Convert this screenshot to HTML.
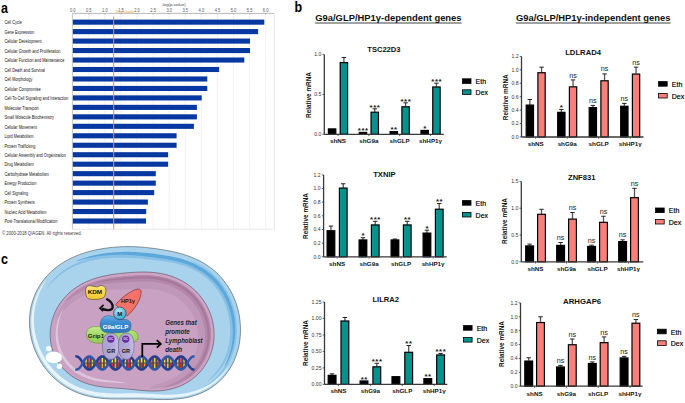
<!DOCTYPE html>
<html><head><meta charset="utf-8"><style>
html,body{margin:0;padding:0;background:#fff;overflow:hidden;width:685px;height:403px;}
svg{display:block;font-family:"Liberation Sans", sans-serif;}
</style></head><body>
<svg width="685" height="403" viewBox="0 0 685 403">
<rect width="685" height="403" fill="#fff"/>
<text transform="translate(0.9,12.5) scale(0.88,1)" font-size="14.2" font-weight="bold" fill="#000">a</text>
<line x1="88.78" y1="13.4" x2="88.78" y2="229.3" stroke="#e2e2e2" stroke-width="0.7" stroke-dasharray="1.6 0.9"/>
<line x1="88.78" y1="13.4" x2="88.78" y2="14.700000000000001" stroke="#aaa" stroke-width="0.6"/>
<line x1="104.86" y1="13.4" x2="104.86" y2="229.3" stroke="#e2e2e2" stroke-width="0.7" stroke-dasharray="1.6 0.9"/>
<line x1="104.86" y1="13.4" x2="104.86" y2="14.700000000000001" stroke="#aaa" stroke-width="0.6"/>
<line x1="120.94" y1="13.4" x2="120.94" y2="229.3" stroke="#e2e2e2" stroke-width="0.7" stroke-dasharray="1.6 0.9"/>
<line x1="120.94" y1="13.4" x2="120.94" y2="14.700000000000001" stroke="#aaa" stroke-width="0.6"/>
<line x1="137.02" y1="13.4" x2="137.02" y2="229.3" stroke="#e2e2e2" stroke-width="0.7" stroke-dasharray="1.6 0.9"/>
<line x1="137.02" y1="13.4" x2="137.02" y2="14.700000000000001" stroke="#aaa" stroke-width="0.6"/>
<line x1="153.10" y1="13.4" x2="153.10" y2="229.3" stroke="#e2e2e2" stroke-width="0.7" stroke-dasharray="1.6 0.9"/>
<line x1="153.10" y1="13.4" x2="153.10" y2="14.700000000000001" stroke="#aaa" stroke-width="0.6"/>
<line x1="169.18" y1="13.4" x2="169.18" y2="229.3" stroke="#e2e2e2" stroke-width="0.7" stroke-dasharray="1.6 0.9"/>
<line x1="169.18" y1="13.4" x2="169.18" y2="14.700000000000001" stroke="#aaa" stroke-width="0.6"/>
<line x1="185.26" y1="13.4" x2="185.26" y2="229.3" stroke="#e2e2e2" stroke-width="0.7" stroke-dasharray="1.6 0.9"/>
<line x1="185.26" y1="13.4" x2="185.26" y2="14.700000000000001" stroke="#aaa" stroke-width="0.6"/>
<line x1="201.34" y1="13.4" x2="201.34" y2="229.3" stroke="#e2e2e2" stroke-width="0.7" stroke-dasharray="1.6 0.9"/>
<line x1="201.34" y1="13.4" x2="201.34" y2="14.700000000000001" stroke="#aaa" stroke-width="0.6"/>
<line x1="217.42" y1="13.4" x2="217.42" y2="229.3" stroke="#e2e2e2" stroke-width="0.7" stroke-dasharray="1.6 0.9"/>
<line x1="217.42" y1="13.4" x2="217.42" y2="14.700000000000001" stroke="#aaa" stroke-width="0.6"/>
<line x1="233.50" y1="13.4" x2="233.50" y2="229.3" stroke="#e2e2e2" stroke-width="0.7" stroke-dasharray="1.6 0.9"/>
<line x1="233.50" y1="13.4" x2="233.50" y2="14.700000000000001" stroke="#aaa" stroke-width="0.6"/>
<line x1="249.58" y1="13.4" x2="249.58" y2="229.3" stroke="#e2e2e2" stroke-width="0.7" stroke-dasharray="1.6 0.9"/>
<line x1="249.58" y1="13.4" x2="249.58" y2="14.700000000000001" stroke="#aaa" stroke-width="0.6"/>
<line x1="265.66" y1="13.4" x2="265.66" y2="229.3" stroke="#e2e2e2" stroke-width="0.7" stroke-dasharray="1.6 0.9"/>
<line x1="265.66" y1="13.4" x2="265.66" y2="14.700000000000001" stroke="#aaa" stroke-width="0.6"/>
<line x1="274.4" y1="13.4" x2="274.4" y2="229.3" stroke="#e0e0e0" stroke-width="0.8"/>
<line x1="72.4" y1="229.3" x2="274.4" y2="229.3" stroke="#e4e4e4" stroke-width="0.8"/>
<text transform="translate(72.70,11.7) scale(0.82,1)" font-size="4.9" fill="#555" text-anchor="middle">0.0</text>
<text transform="translate(88.78,11.7) scale(0.82,1)" font-size="4.9" fill="#555" text-anchor="middle">0.5</text>
<text transform="translate(104.86,11.7) scale(0.82,1)" font-size="4.9" fill="#555" text-anchor="middle">1.0</text>
<text transform="translate(120.94,11.7) scale(0.82,1)" font-size="4.9" fill="#555" text-anchor="middle">1.5</text>
<text transform="translate(137.02,11.7) scale(0.82,1)" font-size="4.9" fill="#555" text-anchor="middle">2.0</text>
<text transform="translate(153.10,11.7) scale(0.82,1)" font-size="4.9" fill="#555" text-anchor="middle">2.5</text>
<text transform="translate(169.18,11.7) scale(0.82,1)" font-size="4.9" fill="#555" text-anchor="middle">3.0</text>
<text transform="translate(185.26,11.7) scale(0.82,1)" font-size="4.9" fill="#555" text-anchor="middle">3.5</text>
<text transform="translate(201.34,11.7) scale(0.82,1)" font-size="4.9" fill="#555" text-anchor="middle">4.0</text>
<text transform="translate(217.42,11.7) scale(0.82,1)" font-size="4.9" fill="#555" text-anchor="middle">4.5</text>
<text transform="translate(233.50,11.7) scale(0.82,1)" font-size="4.9" fill="#555" text-anchor="middle">5.0</text>
<text transform="translate(249.58,11.7) scale(0.82,1)" font-size="4.9" fill="#555" text-anchor="middle">5.5</text>
<text transform="translate(265.66,11.7) scale(0.82,1)" font-size="4.9" fill="#555" text-anchor="middle">6.0</text>
<text x="173.5" y="6.4" font-size="4.3" fill="#444" text-anchor="middle">-log(p-value)</text>
<rect x="72.7" y="19.60" width="191.60" height="5.1" fill="#0737a0"/>
<text transform="translate(4.4,24.40) scale(0.845,1)" x="0" y="0" font-size="4.6" fill="#111">Cell Cycle</text>
<rect x="72.7" y="29.07" width="185.40" height="5.1" fill="#0737a0"/>
<text transform="translate(4.4,33.87) scale(0.845,1)" x="0" y="0" font-size="4.6" fill="#111">Gene Expression</text>
<rect x="72.7" y="38.54" width="177.30" height="5.1" fill="#0737a0"/>
<text transform="translate(4.4,43.34) scale(0.845,1)" x="0" y="0" font-size="4.6" fill="#111">Cellular Development</text>
<rect x="72.7" y="48.01" width="177.30" height="5.1" fill="#0737a0"/>
<text transform="translate(4.4,52.81) scale(0.845,1)" x="0" y="0" font-size="4.6" fill="#111">Cellular Growth and Proliferation</text>
<rect x="72.7" y="57.48" width="171.60" height="5.1" fill="#0737a0"/>
<text transform="translate(4.4,62.28) scale(0.845,1)" x="0" y="0" font-size="4.6" fill="#111">Cellular Function and Maintenance</text>
<rect x="72.7" y="66.95" width="146.40" height="5.1" fill="#0737a0"/>
<text transform="translate(4.4,71.75) scale(0.845,1)" x="0" y="0" font-size="4.6" fill="#111">Cell Death and Survival</text>
<rect x="72.7" y="76.42" width="134.60" height="5.1" fill="#0737a0"/>
<text transform="translate(4.4,81.22) scale(0.845,1)" x="0" y="0" font-size="4.6" fill="#111">Cell Morphology</text>
<rect x="72.7" y="85.89" width="134.60" height="5.1" fill="#0737a0"/>
<text transform="translate(4.4,90.69) scale(0.845,1)" x="0" y="0" font-size="4.6" fill="#111">Cellular Compromise</text>
<rect x="72.7" y="95.36" width="129.00" height="5.1" fill="#0737a0"/>
<text transform="translate(4.4,100.16) scale(0.845,1)" x="0" y="0" font-size="4.6" fill="#111">Cell-To-Cell Signaling and Interaction</text>
<rect x="72.7" y="104.83" width="124.20" height="5.1" fill="#0737a0"/>
<text transform="translate(4.4,109.63) scale(0.845,1)" x="0" y="0" font-size="4.6" fill="#111">Molecular Transport</text>
<rect x="72.7" y="114.30" width="124.20" height="5.1" fill="#0737a0"/>
<text transform="translate(4.4,119.10) scale(0.845,1)" x="0" y="0" font-size="4.6" fill="#111">Small Molecule Biochemistry</text>
<rect x="72.7" y="123.77" width="121.20" height="5.1" fill="#0737a0"/>
<text transform="translate(4.4,128.57) scale(0.845,1)" x="0" y="0" font-size="4.6" fill="#111">Cellular Movement</text>
<rect x="72.7" y="133.24" width="103.90" height="5.1" fill="#0737a0"/>
<text transform="translate(4.4,138.04) scale(0.845,1)" x="0" y="0" font-size="4.6" fill="#111">Lipid Metabolism</text>
<rect x="72.7" y="142.71" width="103.90" height="5.1" fill="#0737a0"/>
<text transform="translate(4.4,147.51) scale(0.845,1)" x="0" y="0" font-size="4.6" fill="#111">Protein Trafficking</text>
<rect x="72.7" y="152.18" width="95.40" height="5.1" fill="#0737a0"/>
<text transform="translate(4.4,156.98) scale(0.845,1)" x="0" y="0" font-size="4.6" fill="#111">Cellular Assembly and Organization</text>
<rect x="72.7" y="161.65" width="95.40" height="5.1" fill="#0737a0"/>
<text transform="translate(4.4,166.45) scale(0.845,1)" x="0" y="0" font-size="4.6" fill="#111">Drug Metabolism</text>
<rect x="72.7" y="171.12" width="83.10" height="5.1" fill="#0737a0"/>
<text transform="translate(4.4,175.92) scale(0.845,1)" x="0" y="0" font-size="4.6" fill="#111">Carbohydrate Metabolism</text>
<rect x="72.7" y="180.59" width="83.10" height="5.1" fill="#0737a0"/>
<text transform="translate(4.4,185.39) scale(0.845,1)" x="0" y="0" font-size="4.6" fill="#111">Energy Production</text>
<rect x="72.7" y="190.06" width="81.50" height="5.1" fill="#0737a0"/>
<text transform="translate(4.4,194.86) scale(0.845,1)" x="0" y="0" font-size="4.6" fill="#111">Cell Signaling</text>
<rect x="72.7" y="199.53" width="75.20" height="5.1" fill="#0737a0"/>
<text transform="translate(4.4,204.33) scale(0.845,1)" x="0" y="0" font-size="4.6" fill="#111">Protein Synthesis</text>
<rect x="72.7" y="209.00" width="73.50" height="5.1" fill="#0737a0"/>
<text transform="translate(4.4,213.80) scale(0.845,1)" x="0" y="0" font-size="4.6" fill="#111">Nucleic Acid Metabolism</text>
<rect x="72.7" y="218.47" width="73.30" height="5.1" fill="#0737a0"/>
<text transform="translate(4.4,223.27) scale(0.845,1)" x="0" y="0" font-size="4.6" fill="#111">Post-Translational Modification</text>
<line x1="72.4" y1="13.4" x2="274.4" y2="13.4" stroke="#a8a8a8" stroke-width="0.8"/>
<line x1="72.4" y1="13.4" x2="72.4" y2="229.3" stroke="#b8b8b8" stroke-width="0.8"/>
<line x1="113.7" y1="16.5" x2="113.7" y2="229.3" stroke="#ef8a5a" stroke-width="1"/>
<text x="115" y="13.0" font-size="4.2" fill="#e8a838">Threshold</text>
<text x="2" y="235.2" font-size="4.9" fill="#333" textLength="79.7" lengthAdjust="spacingAndGlyphs">© 2000-2018 QIAGEN. All rights reserved.</text>
<text transform="translate(294.5,12.4) scale(0.88,1)" font-size="14.2" font-weight="bold" fill="#000">b</text>
<text x="315.2" y="21.3" font-size="9.6" font-weight="bold" fill="#111" textLength="146.4" lengthAdjust="spacingAndGlyphs">G9a/GLP/HP1γ-dependent genes</text>
<line x1="315.2" y1="23.0" x2="461.6" y2="23.0" stroke="#111" stroke-width="0.8"/>
<text x="516" y="21.3" font-size="9.6" font-weight="bold" fill="#111" textLength="154.5" lengthAdjust="spacingAndGlyphs">G9a/GLP/HP1γ-independent genes</text>
<line x1="516" y1="23.0" x2="670.5" y2="23.0" stroke="#111" stroke-width="0.8"/>
<text x="383.9" y="51.8" font-size="7.7" font-weight="bold" fill="#111" text-anchor="middle" textLength="33.2" lengthAdjust="spacingAndGlyphs">TSC22D3</text>
<rect x="328.40" y="128.91" width="7.40" height="5.39" fill="#000" stroke="#000" stroke-width="1.2"/>
<line x1="343.90" y1="57.44" x2="343.90" y2="62.39" stroke="#555" stroke-width="1.3"/>
<line x1="341.70" y1="57.44" x2="346.10" y2="57.44" stroke="#222" stroke-width="1.0"/>
<rect x="340.20" y="62.59" width="7.40" height="71.71" fill="#04928f" stroke="#000" stroke-width="1.2"/>
<line x1="338.00" y1="134.3" x2="338.00" y2="136.10000000000002" stroke="#222" stroke-width="0.7"/>
<text x="338.00" y="143.30" font-size="6.25" font-weight="bold" fill="#111" text-anchor="middle">shNS</text>
<rect x="359.25" y="132.42" width="7.40" height="1.88" fill="#000" stroke="#000" stroke-width="1.2"/>
<text x="363.25" y="132.97" font-size="7.8" font-weight="bold" letter-spacing="0.6" fill="#1a1a1a" text-anchor="middle">***</text>
<line x1="374.75" y1="108.81" x2="374.75" y2="112.01" stroke="#555" stroke-width="1.3"/>
<line x1="372.55" y1="108.81" x2="376.95" y2="108.81" stroke="#222" stroke-width="1.0"/>
<rect x="371.05" y="112.21" width="7.40" height="22.09" fill="#04928f" stroke="#000" stroke-width="1.2"/>
<text x="375.05" y="109.56" font-size="7.8" font-weight="bold" letter-spacing="0.6" fill="#1a1a1a" text-anchor="middle">***</text>
<line x1="368.85" y1="134.3" x2="368.85" y2="136.10000000000002" stroke="#222" stroke-width="0.7"/>
<text x="368.85" y="143.30" font-size="6.25" font-weight="bold" fill="#111" text-anchor="middle">shG9a</text>
<rect x="390.10" y="131.62" width="7.40" height="2.68" fill="#000" stroke="#000" stroke-width="1.2"/>
<text x="394.10" y="132.17" font-size="7.8" font-weight="bold" letter-spacing="0.6" fill="#1a1a1a" text-anchor="middle">**</text>
<line x1="405.60" y1="102.82" x2="405.60" y2="106.57" stroke="#555" stroke-width="1.3"/>
<line x1="403.40" y1="102.82" x2="407.80" y2="102.82" stroke="#222" stroke-width="1.0"/>
<rect x="401.90" y="106.77" width="7.40" height="27.53" fill="#04928f" stroke="#000" stroke-width="1.2"/>
<text x="405.90" y="103.57" font-size="7.8" font-weight="bold" letter-spacing="0.6" fill="#1a1a1a" text-anchor="middle">***</text>
<line x1="399.70" y1="134.3" x2="399.70" y2="136.10000000000002" stroke="#222" stroke-width="0.7"/>
<text x="399.70" y="143.30" font-size="6.25" font-weight="bold" fill="#111" text-anchor="middle">shGLP</text>
<rect x="420.95" y="130.43" width="7.40" height="3.87" fill="#000" stroke="#000" stroke-width="1.2"/>
<text x="424.95" y="130.98" font-size="7.8" font-weight="bold" letter-spacing="0.6" fill="#1a1a1a" text-anchor="middle">*</text>
<line x1="436.45" y1="83.16" x2="436.45" y2="86.76" stroke="#555" stroke-width="1.3"/>
<line x1="434.25" y1="83.16" x2="438.65" y2="83.16" stroke="#222" stroke-width="1.0"/>
<rect x="432.75" y="86.96" width="7.40" height="47.34" fill="#04928f" stroke="#000" stroke-width="1.2"/>
<text x="436.75" y="83.91" font-size="7.8" font-weight="bold" letter-spacing="0.6" fill="#1a1a1a" text-anchor="middle">***</text>
<line x1="430.55" y1="134.3" x2="430.55" y2="136.10000000000002" stroke="#222" stroke-width="0.7"/>
<text x="430.55" y="143.30" font-size="6.25" font-weight="bold" fill="#111" text-anchor="middle">shHP1γ</text>
<line x1="324.3" y1="54.4" x2="324.3" y2="134.3" stroke="#3a3a3a" stroke-width="1.3"/>
<line x1="324.3" y1="134.3" x2="443.8" y2="134.3" stroke="#3a3a3a" stroke-width="1.3"/>
<line x1="322.5" y1="134.30" x2="324.3" y2="134.30" stroke="#222" stroke-width="0.7"/>
<text x="321.3" y="136.15" font-size="5.1" fill="#333" text-anchor="end">0.0</text>
<line x1="322.5" y1="94.35" x2="324.3" y2="94.35" stroke="#222" stroke-width="0.7"/>
<text x="321.3" y="96.20" font-size="5.1" fill="#333" text-anchor="end">0.5</text>
<line x1="322.5" y1="54.40" x2="324.3" y2="54.40" stroke="#222" stroke-width="0.7"/>
<text x="321.3" y="56.25" font-size="5.1" fill="#333" text-anchor="end">1.0</text>
<text transform="translate(310.5,95) rotate(-90)" x="0" y="0" font-size="6.4" font-weight="bold" fill="#111" text-anchor="middle">Relative mRNA</text>
<rect x="462.4" y="78.80000000000001" width="8.6" height="4.6" fill="#000" stroke="#000" stroke-width="0.8"/>
<text x="475.6" y="84.10000000000001" font-size="7" fill="#000" stroke="#000" stroke-width="0.18">Eth</text>
<rect x="462.4" y="89.80000000000001" width="8.6" height="4.6" fill="#04928f" stroke="#000" stroke-width="0.8"/>
<text x="475.6" y="95.10000000000001" font-size="7" fill="#000" stroke="#000" stroke-width="0.18">Dex</text>
<text x="583.1" y="54.8" font-size="7.7" font-weight="bold" fill="#111" text-anchor="middle" textLength="35.8" lengthAdjust="spacingAndGlyphs">LDLRAD4</text>
<line x1="529.85" y1="99.52" x2="529.85" y2="104.89" stroke="#555" stroke-width="1.3"/>
<line x1="527.65" y1="99.52" x2="532.05" y2="99.52" stroke="#222" stroke-width="1.0"/>
<rect x="526.20" y="105.09" width="7.30" height="31.91" fill="#000" stroke="#000" stroke-width="1.2"/>
<line x1="541.55" y1="67.15" x2="541.55" y2="72.52" stroke="#555" stroke-width="1.3"/>
<line x1="539.35" y1="67.15" x2="543.75" y2="67.15" stroke="#222" stroke-width="1.0"/>
<rect x="537.90" y="72.72" width="7.30" height="64.28" fill="#f9807a" stroke="#000" stroke-width="1.2"/>
<line x1="535.70" y1="137" x2="535.70" y2="138.8" stroke="#222" stroke-width="0.7"/>
<text x="535.70" y="146.40" font-size="6.25" font-weight="bold" fill="#111" text-anchor="middle">shNS</text>
<line x1="561.35" y1="109.46" x2="561.35" y2="112.15" stroke="#555" stroke-width="1.3"/>
<line x1="559.15" y1="109.46" x2="563.55" y2="109.46" stroke="#222" stroke-width="1.0"/>
<rect x="557.70" y="112.35" width="7.30" height="24.65" fill="#000" stroke="#000" stroke-width="1.2"/>
<text x="561.65" y="110.21" font-size="7.8" font-weight="bold" letter-spacing="0.6" fill="#1a1a1a" text-anchor="middle">*</text>
<line x1="573.05" y1="79.91" x2="573.05" y2="86.62" stroke="#555" stroke-width="1.3"/>
<line x1="570.85" y1="79.91" x2="575.25" y2="79.91" stroke="#222" stroke-width="1.0"/>
<rect x="569.40" y="86.83" width="7.30" height="50.17" fill="#f9807a" stroke="#000" stroke-width="1.2"/>
<text x="573.05" y="77.51" font-size="7.2" fill="#222" text-anchor="middle">ns</text>
<line x1="567.20" y1="137" x2="567.20" y2="138.8" stroke="#222" stroke-width="0.7"/>
<text x="567.20" y="146.40" font-size="6.25" font-weight="bold" fill="#111" text-anchor="middle">shG9a</text>
<line x1="592.85" y1="105.43" x2="592.85" y2="107.45" stroke="#555" stroke-width="1.3"/>
<line x1="590.65" y1="105.43" x2="595.05" y2="105.43" stroke="#222" stroke-width="1.0"/>
<rect x="589.20" y="107.65" width="7.30" height="29.35" fill="#000" stroke="#000" stroke-width="1.2"/>
<text x="592.85" y="103.03" font-size="7.2" fill="#222" text-anchor="middle">ns</text>
<line x1="604.55" y1="73.86" x2="604.55" y2="80.58" stroke="#555" stroke-width="1.3"/>
<line x1="602.35" y1="73.86" x2="606.75" y2="73.86" stroke="#222" stroke-width="1.0"/>
<rect x="600.90" y="80.78" width="7.30" height="56.22" fill="#f9807a" stroke="#000" stroke-width="1.2"/>
<text x="604.55" y="71.46" font-size="7.2" fill="#222" text-anchor="middle">ns</text>
<line x1="598.70" y1="137" x2="598.70" y2="138.8" stroke="#222" stroke-width="0.7"/>
<text x="598.70" y="146.40" font-size="6.25" font-weight="bold" fill="#111" text-anchor="middle">shGLP</text>
<line x1="624.35" y1="103.42" x2="624.35" y2="106.10" stroke="#555" stroke-width="1.3"/>
<line x1="622.15" y1="103.42" x2="626.55" y2="103.42" stroke="#222" stroke-width="1.0"/>
<rect x="620.70" y="106.30" width="7.30" height="30.70" fill="#000" stroke="#000" stroke-width="1.2"/>
<text x="624.35" y="101.02" font-size="7.2" fill="#222" text-anchor="middle">ns</text>
<line x1="636.05" y1="67.15" x2="636.05" y2="73.86" stroke="#555" stroke-width="1.3"/>
<line x1="633.85" y1="67.15" x2="638.25" y2="67.15" stroke="#222" stroke-width="1.0"/>
<rect x="632.40" y="74.06" width="7.30" height="62.94" fill="#f9807a" stroke="#000" stroke-width="1.2"/>
<text x="636.05" y="64.75" font-size="7.2" fill="#222" text-anchor="middle">ns</text>
<line x1="630.20" y1="137" x2="630.20" y2="138.8" stroke="#222" stroke-width="0.7"/>
<text x="630.20" y="146.40" font-size="6.25" font-weight="bold" fill="#111" text-anchor="middle">shHP1γ</text>
<line x1="521.5" y1="56.4" x2="521.5" y2="137" stroke="#3a3a3a" stroke-width="1.3"/>
<line x1="521.5" y1="137" x2="643.5" y2="137" stroke="#3a3a3a" stroke-width="1.3"/>
<line x1="519.7" y1="137.00" x2="521.5" y2="137.00" stroke="#222" stroke-width="0.7"/>
<text x="518.5" y="138.85" font-size="5.1" fill="#333" text-anchor="end">0.0</text>
<line x1="519.7" y1="123.57" x2="521.5" y2="123.57" stroke="#222" stroke-width="0.7"/>
<text x="518.5" y="125.42" font-size="5.1" fill="#333" text-anchor="end">0.2</text>
<line x1="519.7" y1="110.13" x2="521.5" y2="110.13" stroke="#222" stroke-width="0.7"/>
<text x="518.5" y="111.98" font-size="5.1" fill="#333" text-anchor="end">0.4</text>
<line x1="519.7" y1="96.70" x2="521.5" y2="96.70" stroke="#222" stroke-width="0.7"/>
<text x="518.5" y="98.55" font-size="5.1" fill="#333" text-anchor="end">0.6</text>
<line x1="519.7" y1="83.27" x2="521.5" y2="83.27" stroke="#222" stroke-width="0.7"/>
<text x="518.5" y="85.12" font-size="5.1" fill="#333" text-anchor="end">0.8</text>
<line x1="519.7" y1="69.83" x2="521.5" y2="69.83" stroke="#222" stroke-width="0.7"/>
<text x="518.5" y="71.68" font-size="5.1" fill="#333" text-anchor="end">1.0</text>
<line x1="519.7" y1="56.40" x2="521.5" y2="56.40" stroke="#222" stroke-width="0.7"/>
<text x="518.5" y="58.25" font-size="5.1" fill="#333" text-anchor="end">1.2</text>
<text transform="translate(507.8,97.3) rotate(-90)" x="0" y="0" font-size="6.4" font-weight="bold" fill="#111" text-anchor="middle">Relative mRNA</text>
<rect x="658.6" y="81.60000000000001" width="8.6" height="4.6" fill="#000" stroke="#000" stroke-width="0.8"/>
<text x="671.8000000000001" y="86.9" font-size="7" fill="#000" stroke="#000" stroke-width="0.18">Eth</text>
<rect x="658.6" y="93.4" width="8.6" height="4.6" fill="#f9807a" stroke="#000" stroke-width="0.8"/>
<text x="671.8000000000001" y="98.7" font-size="7" fill="#000" stroke="#000" stroke-width="0.18">Dex</text>
<text x="384.4" y="176.7" font-size="7.7" font-weight="bold" fill="#111" text-anchor="middle" textLength="22.5" lengthAdjust="spacingAndGlyphs">TXNIP</text>
<line x1="330.95" y1="226.09" x2="330.95" y2="230.52" stroke="#555" stroke-width="1.3"/>
<line x1="328.75" y1="226.09" x2="333.15" y2="226.09" stroke="#222" stroke-width="1.0"/>
<rect x="327.10" y="230.72" width="7.70" height="26.08" fill="#000" stroke="#000" stroke-width="1.2"/>
<line x1="343.25" y1="183.77" x2="343.25" y2="187.87" stroke="#555" stroke-width="1.3"/>
<line x1="341.05" y1="183.77" x2="345.45" y2="183.77" stroke="#222" stroke-width="1.0"/>
<rect x="339.40" y="188.07" width="7.70" height="68.73" fill="#04928f" stroke="#000" stroke-width="1.2"/>
<line x1="337.10" y1="256.8" x2="337.10" y2="258.6" stroke="#222" stroke-width="0.7"/>
<text x="337.10" y="266.10" font-size="6.25" font-weight="bold" fill="#111" text-anchor="middle">shNS</text>
<line x1="362.95" y1="237.69" x2="362.95" y2="239.74" stroke="#555" stroke-width="1.3"/>
<line x1="360.75" y1="237.69" x2="365.15" y2="237.69" stroke="#222" stroke-width="1.0"/>
<rect x="359.10" y="239.94" width="7.70" height="16.86" fill="#000" stroke="#000" stroke-width="1.2"/>
<text x="363.25" y="238.44" font-size="7.8" font-weight="bold" letter-spacing="0.6" fill="#1a1a1a" text-anchor="middle">*</text>
<line x1="375.25" y1="221.31" x2="375.25" y2="224.72" stroke="#555" stroke-width="1.3"/>
<line x1="373.05" y1="221.31" x2="377.45" y2="221.31" stroke="#222" stroke-width="1.0"/>
<rect x="371.40" y="224.92" width="7.70" height="31.88" fill="#04928f" stroke="#000" stroke-width="1.2"/>
<text x="375.55" y="222.06" font-size="7.8" font-weight="bold" letter-spacing="0.6" fill="#1a1a1a" text-anchor="middle">***</text>
<line x1="369.10" y1="256.8" x2="369.10" y2="258.6" stroke="#222" stroke-width="0.7"/>
<text x="369.10" y="266.10" font-size="6.25" font-weight="bold" fill="#111" text-anchor="middle">shG9a</text>
<line x1="394.95" y1="239.06" x2="394.95" y2="239.74" stroke="#555" stroke-width="1.3"/>
<line x1="392.75" y1="239.06" x2="397.15" y2="239.06" stroke="#222" stroke-width="1.0"/>
<rect x="391.10" y="239.94" width="7.70" height="16.86" fill="#000" stroke="#000" stroke-width="1.2"/>
<line x1="407.25" y1="221.31" x2="407.25" y2="224.72" stroke="#555" stroke-width="1.3"/>
<line x1="405.05" y1="221.31" x2="409.45" y2="221.31" stroke="#222" stroke-width="1.0"/>
<rect x="403.40" y="224.92" width="7.70" height="31.88" fill="#04928f" stroke="#000" stroke-width="1.2"/>
<text x="407.55" y="222.06" font-size="7.8" font-weight="bold" letter-spacing="0.6" fill="#1a1a1a" text-anchor="middle">**</text>
<line x1="401.10" y1="256.8" x2="401.10" y2="258.6" stroke="#222" stroke-width="0.7"/>
<text x="401.10" y="266.10" font-size="6.25" font-weight="bold" fill="#111" text-anchor="middle">shGLP</text>
<line x1="426.95" y1="230.18" x2="426.95" y2="232.91" stroke="#555" stroke-width="1.3"/>
<line x1="424.75" y1="230.18" x2="429.15" y2="230.18" stroke="#222" stroke-width="1.0"/>
<rect x="423.10" y="233.11" width="7.70" height="23.69" fill="#000" stroke="#000" stroke-width="1.2"/>
<text x="427.25" y="230.93" font-size="7.8" font-weight="bold" letter-spacing="0.6" fill="#1a1a1a" text-anchor="middle">*</text>
<line x1="439.25" y1="203.56" x2="439.25" y2="209.03" stroke="#555" stroke-width="1.3"/>
<line x1="437.05" y1="203.56" x2="441.45" y2="203.56" stroke="#222" stroke-width="1.0"/>
<rect x="435.40" y="209.22" width="7.70" height="47.58" fill="#04928f" stroke="#000" stroke-width="1.2"/>
<text x="439.55" y="204.31" font-size="7.8" font-weight="bold" letter-spacing="0.6" fill="#1a1a1a" text-anchor="middle">**</text>
<line x1="433.10" y1="256.8" x2="433.10" y2="258.6" stroke="#222" stroke-width="0.7"/>
<text x="433.10" y="266.10" font-size="6.25" font-weight="bold" fill="#111" text-anchor="middle">shHP1γ</text>
<line x1="323.6" y1="174.9" x2="323.6" y2="256.8" stroke="#3a3a3a" stroke-width="1.3"/>
<line x1="323.6" y1="256.8" x2="446.8" y2="256.8" stroke="#3a3a3a" stroke-width="1.3"/>
<line x1="321.8" y1="256.80" x2="323.6" y2="256.80" stroke="#222" stroke-width="0.7"/>
<text x="320.6" y="258.65" font-size="5.1" fill="#333" text-anchor="end">0.0</text>
<line x1="321.8" y1="243.15" x2="323.6" y2="243.15" stroke="#222" stroke-width="0.7"/>
<text x="320.6" y="245.00" font-size="5.1" fill="#333" text-anchor="end">0.2</text>
<line x1="321.8" y1="229.50" x2="323.6" y2="229.50" stroke="#222" stroke-width="0.7"/>
<text x="320.6" y="231.35" font-size="5.1" fill="#333" text-anchor="end">0.4</text>
<line x1="321.8" y1="215.85" x2="323.6" y2="215.85" stroke="#222" stroke-width="0.7"/>
<text x="320.6" y="217.70" font-size="5.1" fill="#333" text-anchor="end">0.6</text>
<line x1="321.8" y1="202.20" x2="323.6" y2="202.20" stroke="#222" stroke-width="0.7"/>
<text x="320.6" y="204.05" font-size="5.1" fill="#333" text-anchor="end">0.8</text>
<line x1="321.8" y1="188.55" x2="323.6" y2="188.55" stroke="#222" stroke-width="0.7"/>
<text x="320.6" y="190.40" font-size="5.1" fill="#333" text-anchor="end">1.0</text>
<line x1="321.8" y1="174.90" x2="323.6" y2="174.90" stroke="#222" stroke-width="0.7"/>
<text x="320.6" y="176.75" font-size="5.1" fill="#333" text-anchor="end">1.2</text>
<text transform="translate(307.8,216) rotate(-90)" x="0" y="0" font-size="6.4" font-weight="bold" fill="#111" text-anchor="middle">Relative mRNA</text>
<rect x="462.4" y="200.6" width="8.6" height="4.6" fill="#000" stroke="#000" stroke-width="0.8"/>
<text x="475.6" y="205.89999999999998" font-size="7" fill="#000" stroke="#000" stroke-width="0.18">Eth</text>
<rect x="462.4" y="212.4" width="8.6" height="4.6" fill="#04928f" stroke="#000" stroke-width="0.8"/>
<text x="475.6" y="217.7" font-size="7" fill="#000" stroke="#000" stroke-width="0.18">Dex</text>
<text x="581.7" y="180.0" font-size="7.7" font-weight="bold" fill="#111" text-anchor="middle" textLength="27.4" lengthAdjust="spacingAndGlyphs">ZNF831</text>
<line x1="529.60" y1="244.11" x2="529.60" y2="245.72" stroke="#555" stroke-width="1.3"/>
<line x1="527.40" y1="244.11" x2="531.80" y2="244.11" stroke="#222" stroke-width="1.0"/>
<rect x="525.70" y="245.92" width="7.80" height="15.88" fill="#000" stroke="#000" stroke-width="1.2"/>
<line x1="541.50" y1="209.27" x2="541.50" y2="214.10" stroke="#555" stroke-width="1.3"/>
<line x1="539.30" y1="209.27" x2="543.70" y2="209.27" stroke="#222" stroke-width="1.0"/>
<rect x="537.60" y="214.30" width="7.80" height="47.50" fill="#f9807a" stroke="#000" stroke-width="1.2"/>
<line x1="535.55" y1="261.8" x2="535.55" y2="263.6" stroke="#222" stroke-width="0.7"/>
<text x="535.55" y="270.60" font-size="6.25" font-weight="bold" fill="#111" text-anchor="middle">shNS</text>
<line x1="560.60" y1="242.50" x2="560.60" y2="245.18" stroke="#555" stroke-width="1.3"/>
<line x1="558.40" y1="242.50" x2="562.80" y2="242.50" stroke="#222" stroke-width="1.0"/>
<rect x="556.70" y="245.38" width="7.80" height="16.42" fill="#000" stroke="#000" stroke-width="1.2"/>
<text x="560.60" y="240.10" font-size="7.2" fill="#222" text-anchor="middle">ns</text>
<line x1="572.50" y1="212.49" x2="572.50" y2="218.92" stroke="#555" stroke-width="1.3"/>
<line x1="570.30" y1="212.49" x2="574.70" y2="212.49" stroke="#222" stroke-width="1.0"/>
<rect x="568.60" y="219.12" width="7.80" height="42.68" fill="#f9807a" stroke="#000" stroke-width="1.2"/>
<text x="572.50" y="210.09" font-size="7.2" fill="#222" text-anchor="middle">ns</text>
<line x1="566.55" y1="261.8" x2="566.55" y2="263.6" stroke="#222" stroke-width="0.7"/>
<text x="566.55" y="270.60" font-size="6.25" font-weight="bold" fill="#111" text-anchor="middle">shG9a</text>
<line x1="591.60" y1="245.18" x2="591.60" y2="246.26" stroke="#555" stroke-width="1.3"/>
<line x1="589.40" y1="245.18" x2="593.80" y2="245.18" stroke="#222" stroke-width="1.0"/>
<rect x="587.70" y="246.46" width="7.80" height="15.34" fill="#000" stroke="#000" stroke-width="1.2"/>
<text x="591.60" y="242.78" font-size="7.2" fill="#222" text-anchor="middle">ns</text>
<line x1="603.50" y1="216.24" x2="603.50" y2="222.14" stroke="#555" stroke-width="1.3"/>
<line x1="601.30" y1="216.24" x2="605.70" y2="216.24" stroke="#222" stroke-width="1.0"/>
<rect x="599.60" y="222.34" width="7.80" height="39.46" fill="#f9807a" stroke="#000" stroke-width="1.2"/>
<text x="603.50" y="213.84" font-size="7.2" fill="#222" text-anchor="middle">ns</text>
<line x1="597.55" y1="261.8" x2="597.55" y2="263.6" stroke="#222" stroke-width="0.7"/>
<text x="597.55" y="270.60" font-size="6.25" font-weight="bold" fill="#111" text-anchor="middle">shGLP</text>
<line x1="622.60" y1="239.82" x2="622.60" y2="241.43" stroke="#555" stroke-width="1.3"/>
<line x1="620.40" y1="239.82" x2="624.80" y2="239.82" stroke="#222" stroke-width="1.0"/>
<rect x="618.70" y="241.63" width="7.80" height="20.17" fill="#000" stroke="#000" stroke-width="1.2"/>
<text x="622.60" y="237.42" font-size="7.2" fill="#222" text-anchor="middle">ns</text>
<line x1="634.50" y1="188.37" x2="634.50" y2="197.48" stroke="#555" stroke-width="1.3"/>
<line x1="632.30" y1="188.37" x2="636.70" y2="188.37" stroke="#222" stroke-width="1.0"/>
<rect x="630.60" y="197.68" width="7.80" height="64.12" fill="#f9807a" stroke="#000" stroke-width="1.2"/>
<text x="634.50" y="185.97" font-size="7.2" fill="#222" text-anchor="middle">ns</text>
<line x1="628.55" y1="261.8" x2="628.55" y2="263.6" stroke="#222" stroke-width="0.7"/>
<text x="628.55" y="270.60" font-size="6.25" font-weight="bold" fill="#111" text-anchor="middle">shHP1γ</text>
<line x1="521.3" y1="181.4" x2="521.3" y2="261.8" stroke="#3a3a3a" stroke-width="1.3"/>
<line x1="521.3" y1="261.8" x2="643.3" y2="261.8" stroke="#3a3a3a" stroke-width="1.3"/>
<line x1="519.5" y1="261.80" x2="521.3" y2="261.80" stroke="#222" stroke-width="0.7"/>
<text x="518.3" y="263.65" font-size="5.1" fill="#333" text-anchor="end">0.0</text>
<line x1="519.5" y1="235.00" x2="521.3" y2="235.00" stroke="#222" stroke-width="0.7"/>
<text x="518.3" y="236.85" font-size="5.1" fill="#333" text-anchor="end">0.5</text>
<line x1="519.5" y1="208.20" x2="521.3" y2="208.20" stroke="#222" stroke-width="0.7"/>
<text x="518.3" y="210.05" font-size="5.1" fill="#333" text-anchor="end">1.0</text>
<line x1="519.5" y1="181.40" x2="521.3" y2="181.40" stroke="#222" stroke-width="0.7"/>
<text x="518.3" y="183.25" font-size="5.1" fill="#333" text-anchor="end">1.5</text>
<text transform="translate(506.5,221) rotate(-90)" x="0" y="0" font-size="6.4" font-weight="bold" fill="#111" text-anchor="middle">Relative mRNA</text>
<rect x="655.6" y="208.0" width="8.6" height="4.6" fill="#000" stroke="#000" stroke-width="0.8"/>
<text x="668.8000000000001" y="213.29999999999998" font-size="7" fill="#000" stroke="#000" stroke-width="0.18">Eth</text>
<rect x="655.6" y="219.4" width="8.6" height="4.6" fill="#f9807a" stroke="#000" stroke-width="0.8"/>
<text x="668.8000000000001" y="224.7" font-size="7" fill="#000" stroke="#000" stroke-width="0.18">Dex</text>
<text x="385.7" y="301.7" font-size="7.7" font-weight="bold" fill="#111" text-anchor="middle" textLength="26.6" lengthAdjust="spacingAndGlyphs">LILRA2</text>
<line x1="332.10" y1="373.85" x2="332.10" y2="375.17" stroke="#555" stroke-width="1.3"/>
<line x1="329.90" y1="373.85" x2="334.30" y2="373.85" stroke="#222" stroke-width="1.0"/>
<rect x="328.20" y="375.37" width="7.80" height="9.03" fill="#000" stroke="#000" stroke-width="1.2"/>
<line x1="344.90" y1="317.49" x2="344.90" y2="320.79" stroke="#555" stroke-width="1.3"/>
<line x1="342.70" y1="317.49" x2="347.10" y2="317.49" stroke="#222" stroke-width="1.0"/>
<rect x="341.00" y="320.99" width="7.80" height="63.41" fill="#04928f" stroke="#000" stroke-width="1.2"/>
<line x1="338.50" y1="384.4" x2="338.50" y2="386.2" stroke="#222" stroke-width="0.7"/>
<text x="338.50" y="393.40" font-size="6.25" font-weight="bold" fill="#111" text-anchor="middle">shNS</text>
<rect x="360.10" y="380.97" width="7.80" height="3.43" fill="#000" stroke="#000" stroke-width="1.2"/>
<text x="364.30" y="381.52" font-size="7.8" font-weight="bold" letter-spacing="0.6" fill="#1a1a1a" text-anchor="middle">**</text>
<line x1="376.80" y1="363.31" x2="376.80" y2="366.60" stroke="#555" stroke-width="1.3"/>
<line x1="374.60" y1="363.31" x2="379.00" y2="363.31" stroke="#222" stroke-width="1.0"/>
<rect x="372.90" y="366.80" width="7.80" height="17.60" fill="#04928f" stroke="#000" stroke-width="1.2"/>
<text x="377.10" y="364.06" font-size="7.8" font-weight="bold" letter-spacing="0.6" fill="#1a1a1a" text-anchor="middle">***</text>
<line x1="370.40" y1="384.4" x2="370.40" y2="386.2" stroke="#222" stroke-width="0.7"/>
<text x="370.40" y="393.40" font-size="6.25" font-weight="bold" fill="#111" text-anchor="middle">shG9a</text>
<rect x="392.00" y="376.69" width="7.80" height="7.71" fill="#000" stroke="#000" stroke-width="1.2"/>
<line x1="408.70" y1="345.51" x2="408.70" y2="352.10" stroke="#555" stroke-width="1.3"/>
<line x1="406.50" y1="345.51" x2="410.90" y2="345.51" stroke="#222" stroke-width="1.0"/>
<rect x="404.80" y="352.30" width="7.80" height="32.10" fill="#04928f" stroke="#000" stroke-width="1.2"/>
<text x="409.00" y="346.26" font-size="7.8" font-weight="bold" letter-spacing="0.6" fill="#1a1a1a" text-anchor="middle">**</text>
<line x1="402.30" y1="384.4" x2="402.30" y2="386.2" stroke="#222" stroke-width="0.7"/>
<text x="402.30" y="393.40" font-size="6.25" font-weight="bold" fill="#111" text-anchor="middle">shGLP</text>
<rect x="423.90" y="378.67" width="7.80" height="5.73" fill="#000" stroke="#000" stroke-width="1.2"/>
<text x="428.10" y="379.22" font-size="7.8" font-weight="bold" letter-spacing="0.6" fill="#1a1a1a" text-anchor="middle">**</text>
<line x1="440.60" y1="353.42" x2="440.60" y2="354.74" stroke="#555" stroke-width="1.3"/>
<line x1="438.40" y1="353.42" x2="442.80" y2="353.42" stroke="#222" stroke-width="1.0"/>
<rect x="436.70" y="354.94" width="7.80" height="29.46" fill="#04928f" stroke="#000" stroke-width="1.2"/>
<text x="440.90" y="354.17" font-size="7.8" font-weight="bold" letter-spacing="0.6" fill="#1a1a1a" text-anchor="middle">***</text>
<line x1="434.20" y1="384.4" x2="434.20" y2="386.2" stroke="#222" stroke-width="0.7"/>
<text x="434.20" y="393.40" font-size="6.25" font-weight="bold" fill="#111" text-anchor="middle">shHP1γ</text>
<line x1="324.5" y1="302" x2="324.5" y2="384.4" stroke="#3a3a3a" stroke-width="1.3"/>
<line x1="324.5" y1="384.4" x2="447.3" y2="384.4" stroke="#3a3a3a" stroke-width="1.3"/>
<line x1="322.7" y1="384.40" x2="324.5" y2="384.40" stroke="#222" stroke-width="0.7"/>
<text x="321.5" y="386.25" font-size="5.1" fill="#333" text-anchor="end">0.00</text>
<line x1="322.7" y1="367.92" x2="324.5" y2="367.92" stroke="#222" stroke-width="0.7"/>
<text x="321.5" y="369.77" font-size="5.1" fill="#333" text-anchor="end">0.25</text>
<line x1="322.7" y1="351.44" x2="324.5" y2="351.44" stroke="#222" stroke-width="0.7"/>
<text x="321.5" y="353.29" font-size="5.1" fill="#333" text-anchor="end">0.50</text>
<line x1="322.7" y1="334.96" x2="324.5" y2="334.96" stroke="#222" stroke-width="0.7"/>
<text x="321.5" y="336.81" font-size="5.1" fill="#333" text-anchor="end">0.75</text>
<line x1="322.7" y1="318.48" x2="324.5" y2="318.48" stroke="#222" stroke-width="0.7"/>
<text x="321.5" y="320.33" font-size="5.1" fill="#333" text-anchor="end">1.00</text>
<line x1="322.7" y1="302.00" x2="324.5" y2="302.00" stroke="#222" stroke-width="0.7"/>
<text x="321.5" y="303.85" font-size="5.1" fill="#333" text-anchor="end">1.25</text>
<text transform="translate(307.5,343) rotate(-90)" x="0" y="0" font-size="6.4" font-weight="bold" fill="#111" text-anchor="middle">Relative mRNA</text>
<rect x="463.5" y="325.59999999999997" width="8.6" height="4.6" fill="#000" stroke="#000" stroke-width="0.8"/>
<text x="476.70000000000005" y="330.9" font-size="7" fill="#000" stroke="#000" stroke-width="0.18">Eth</text>
<rect x="463.5" y="337.5" width="8.6" height="4.6" fill="#04928f" stroke="#000" stroke-width="0.8"/>
<text x="476.70000000000005" y="342.8" font-size="7" fill="#000" stroke="#000" stroke-width="0.18">Dex</text>
<text x="582.1" y="303.6" font-size="7.7" font-weight="bold" fill="#111" text-anchor="middle" textLength="38.2" lengthAdjust="spacingAndGlyphs">ARHGAP6</text>
<line x1="528.70" y1="357.74" x2="528.70" y2="360.86" stroke="#555" stroke-width="1.3"/>
<line x1="526.50" y1="357.74" x2="530.90" y2="357.74" stroke="#222" stroke-width="1.0"/>
<rect x="524.80" y="361.06" width="7.80" height="25.14" fill="#000" stroke="#000" stroke-width="1.2"/>
<line x1="540.50" y1="316.78" x2="540.50" y2="322.34" stroke="#555" stroke-width="1.3"/>
<line x1="538.30" y1="316.78" x2="542.70" y2="316.78" stroke="#222" stroke-width="1.0"/>
<rect x="536.60" y="322.54" width="7.80" height="63.66" fill="#f9807a" stroke="#000" stroke-width="1.2"/>
<line x1="534.60" y1="386.2" x2="534.60" y2="388.0" stroke="#222" stroke-width="0.7"/>
<text x="534.60" y="396.30" font-size="6.25" font-weight="bold" fill="#111" text-anchor="middle">shNS</text>
<line x1="560.50" y1="365.38" x2="560.50" y2="366.76" stroke="#555" stroke-width="1.3"/>
<line x1="558.30" y1="365.38" x2="562.70" y2="365.38" stroke="#222" stroke-width="1.0"/>
<rect x="556.60" y="366.96" width="7.80" height="19.24" fill="#000" stroke="#000" stroke-width="1.2"/>
<text x="560.50" y="362.98" font-size="7.2" fill="#222" text-anchor="middle">ns</text>
<line x1="572.30" y1="339.00" x2="572.30" y2="344.55" stroke="#555" stroke-width="1.3"/>
<line x1="570.10" y1="339.00" x2="574.50" y2="339.00" stroke="#222" stroke-width="1.0"/>
<rect x="568.40" y="344.75" width="7.80" height="41.45" fill="#f9807a" stroke="#000" stroke-width="1.2"/>
<text x="572.30" y="336.60" font-size="7.2" fill="#222" text-anchor="middle">ns</text>
<line x1="566.40" y1="386.2" x2="566.40" y2="388.0" stroke="#222" stroke-width="0.7"/>
<text x="566.40" y="396.30" font-size="6.25" font-weight="bold" fill="#111" text-anchor="middle">shG9a</text>
<line x1="592.30" y1="361.90" x2="592.30" y2="363.29" stroke="#555" stroke-width="1.3"/>
<line x1="590.10" y1="361.90" x2="594.50" y2="361.90" stroke="#222" stroke-width="1.0"/>
<rect x="588.40" y="363.49" width="7.80" height="22.71" fill="#000" stroke="#000" stroke-width="1.2"/>
<text x="592.30" y="359.50" font-size="7.2" fill="#222" text-anchor="middle">ns</text>
<line x1="604.10" y1="336.91" x2="604.10" y2="342.47" stroke="#555" stroke-width="1.3"/>
<line x1="601.90" y1="336.91" x2="606.30" y2="336.91" stroke="#222" stroke-width="1.0"/>
<rect x="600.20" y="342.67" width="7.80" height="43.53" fill="#f9807a" stroke="#000" stroke-width="1.2"/>
<text x="604.10" y="334.51" font-size="7.2" fill="#222" text-anchor="middle">ns</text>
<line x1="598.20" y1="386.2" x2="598.20" y2="388.0" stroke="#222" stroke-width="0.7"/>
<text x="598.20" y="396.30" font-size="6.25" font-weight="bold" fill="#111" text-anchor="middle">shGLP</text>
<line x1="624.10" y1="356.35" x2="624.10" y2="357.74" stroke="#555" stroke-width="1.3"/>
<line x1="621.90" y1="356.35" x2="626.30" y2="356.35" stroke="#222" stroke-width="1.0"/>
<rect x="620.20" y="357.94" width="7.80" height="28.26" fill="#000" stroke="#000" stroke-width="1.2"/>
<text x="624.10" y="353.95" font-size="7.2" fill="#222" text-anchor="middle">ns</text>
<line x1="635.90" y1="319.56" x2="635.90" y2="323.03" stroke="#555" stroke-width="1.3"/>
<line x1="633.70" y1="319.56" x2="638.10" y2="319.56" stroke="#222" stroke-width="1.0"/>
<rect x="632.00" y="323.23" width="7.80" height="62.97" fill="#f9807a" stroke="#000" stroke-width="1.2"/>
<text x="635.90" y="317.16" font-size="7.2" fill="#222" text-anchor="middle">ns</text>
<line x1="630.00" y1="386.2" x2="630.00" y2="388.0" stroke="#222" stroke-width="0.7"/>
<text x="630.00" y="396.30" font-size="6.25" font-weight="bold" fill="#111" text-anchor="middle">shHP1γ</text>
<line x1="520.5" y1="302.9" x2="520.5" y2="386.2" stroke="#3a3a3a" stroke-width="1.3"/>
<line x1="520.5" y1="386.2" x2="642.6" y2="386.2" stroke="#3a3a3a" stroke-width="1.3"/>
<line x1="518.7" y1="386.20" x2="520.5" y2="386.20" stroke="#222" stroke-width="0.7"/>
<text x="517.5" y="388.05" font-size="5.1" fill="#333" text-anchor="end">0.0</text>
<line x1="518.7" y1="372.32" x2="520.5" y2="372.32" stroke="#222" stroke-width="0.7"/>
<text x="517.5" y="374.17" font-size="5.1" fill="#333" text-anchor="end">0.2</text>
<line x1="518.7" y1="358.43" x2="520.5" y2="358.43" stroke="#222" stroke-width="0.7"/>
<text x="517.5" y="360.28" font-size="5.1" fill="#333" text-anchor="end">0.4</text>
<line x1="518.7" y1="344.55" x2="520.5" y2="344.55" stroke="#222" stroke-width="0.7"/>
<text x="517.5" y="346.40" font-size="5.1" fill="#333" text-anchor="end">0.6</text>
<line x1="518.7" y1="330.67" x2="520.5" y2="330.67" stroke="#222" stroke-width="0.7"/>
<text x="517.5" y="332.52" font-size="5.1" fill="#333" text-anchor="end">0.8</text>
<line x1="518.7" y1="316.78" x2="520.5" y2="316.78" stroke="#222" stroke-width="0.7"/>
<text x="517.5" y="318.63" font-size="5.1" fill="#333" text-anchor="end">1.0</text>
<line x1="518.7" y1="302.90" x2="520.5" y2="302.90" stroke="#222" stroke-width="0.7"/>
<text x="517.5" y="304.75" font-size="5.1" fill="#333" text-anchor="end">1.2</text>
<text transform="translate(503.5,344) rotate(-90)" x="0" y="0" font-size="6.4" font-weight="bold" fill="#111" text-anchor="middle">Relative mRNA</text>
<rect x="657.6" y="329.2" width="8.6" height="4.6" fill="#000" stroke="#000" stroke-width="0.8"/>
<text x="670.8000000000001" y="334.5" font-size="7" fill="#000" stroke="#000" stroke-width="0.18">Eth</text>
<rect x="657.6" y="340.79999999999995" width="8.6" height="4.6" fill="#f9807a" stroke="#000" stroke-width="0.8"/>
<text x="670.8000000000001" y="346.09999999999997" font-size="7" fill="#000" stroke="#000" stroke-width="0.18">Dex</text>
<text transform="translate(0.9,264.0) scale(0.88,1)" font-size="14.2" font-weight="bold" fill="#000">c</text>
<defs><clipPath id="oc"><path d="M30.04,312.87 L30.46,310.07 L30.99,307.29 L31.63,304.53 L32.38,301.82 L33.25,299.14 L34.22,296.50 L35.30,293.92 L36.48,291.39 L37.77,288.91 L39.15,286.50 L40.62,284.16 L42.19,281.88 L43.84,279.68 L45.57,277.56 L47.37,275.51 L49.24,273.55 L51.17,271.66 L53.17,269.87 L55.21,268.15 L57.29,266.52 L59.42,264.98 L61.58,263.52 L63.76,262.14 L65.96,260.85 L68.19,259.63 L70.42,258.49 L72.65,257.43 L74.89,256.44 L77.13,255.51 L79.35,254.66 L81.57,253.86 L83.77,253.13 L85.96,252.45 L88.13,251.82 L90.28,251.24 L92.41,250.71 L94.51,250.22 L96.59,249.78 L98.65,249.37 L100.69,248.99 L102.70,248.65 L104.69,248.34 L106.66,248.06 L108.60,247.81 L110.53,247.59 L112.43,247.39 L114.32,247.21 L116.18,247.06 L118.03,246.93 L119.87,246.82 L121.69,246.74 L123.50,246.67 L125.29,246.63 L127.07,246.60 L128.84,246.60 L130.60,246.62 L132.36,246.65 L134.10,246.70 L135.84,246.78 L137.57,246.86 L139.29,246.97 L141.01,247.09 L142.73,247.23 L144.45,247.38 L146.17,247.54 L147.89,247.72 L149.61,247.91 L151.33,248.12 L153.06,248.34 L154.80,248.56 L156.54,248.81 L158.30,249.06 L160.07,249.33 L161.85,249.61 L163.65,249.91 L165.46,250.22 L167.29,250.56 L169.14,250.91 L171.01,251.28 L172.89,251.68 L174.80,252.11 L176.73,252.57 L178.68,253.06 L180.64,253.59 L182.62,254.15 L184.62,254.76 L186.64,255.42 L188.67,256.12 L190.70,256.88 L192.75,257.69 L194.79,258.57 L196.84,259.50 L198.89,260.50 L200.92,261.57 L202.95,262.70 L204.96,263.91 L206.95,265.18 L208.92,266.53 L210.86,267.96 L212.77,269.46 L214.63,271.03 L216.46,272.67 L218.25,274.39 L219.98,276.18 L221.66,278.04 L223.28,279.97 L224.85,281.96 L226.35,284.02 L227.79,286.15 L229.16,288.33 L230.46,290.57 L231.69,292.87 L232.84,295.21 L233.92,297.61 L234.92,300.05 L235.85,302.54 L236.69,305.07 L237.45,307.64 L238.13,310.24 L238.73,312.87 L239.24,315.53 L239.67,318.22 L240.01,320.93 L240.26,323.66 L240.42,326.41 L240.48,329.17 L240.46,331.94 L240.34,334.72 L240.12,337.49 L239.81,340.27 L239.39,343.03 L238.88,345.79 L238.26,348.53 L237.53,351.24 L236.70,353.93 L235.77,356.59 L234.72,359.21 L233.57,361.79 L232.31,364.31 L230.95,366.79 L229.48,369.19 L227.90,371.54 L226.23,373.81 L224.45,376.00 L222.58,378.10 L220.61,380.12 L218.56,382.05 L216.42,383.87 L214.21,385.60 L211.92,387.22 L209.57,388.74 L207.15,390.15 L204.68,391.45 L202.16,392.64 L199.61,393.73 L197.02,394.70 L194.41,395.58 L191.78,396.35 L189.13,397.02 L186.48,397.60 L183.84,398.09 L181.19,398.49 L178.56,398.82 L175.95,399.08 L173.36,399.28 L170.79,399.41 L168.24,399.50 L165.73,399.55 L163.24,399.56 L160.79,399.54 L158.36,399.49 L155.97,399.44 L153.60,399.37 L151.26,399.30 L148.94,399.23 L146.64,399.16 L144.35,399.10 L142.08,399.05 L139.82,399.01 L137.57,398.98 L135.31,398.97 L133.06,398.96 L130.79,398.97 L128.52,398.98 L126.23,399.00 L123.92,399.02 L121.60,399.04 L119.25,399.04 L116.88,399.04 L114.49,399.01 L112.07,398.96 L109.62,398.88 L107.15,398.76 L104.66,398.59 L102.15,398.38 L99.62,398.11 L97.07,397.78 L94.51,397.38 L91.94,396.91 L89.37,396.36 L86.79,395.73 L84.22,395.02 L81.66,394.22 L79.11,393.33 L76.58,392.35 L74.08,391.27 L71.61,390.10 L69.17,388.84 L66.76,387.48 L64.41,386.03 L62.10,384.49 L59.84,382.85 L57.64,381.13 L55.51,379.32 L53.43,377.43 L51.43,375.45 L49.50,373.40 L47.64,371.27 L45.85,369.07 L44.15,366.80 L42.53,364.47 L41.00,362.08 L39.55,359.62 L38.19,357.12 L36.92,354.56 L35.75,351.96 L34.66,349.31 L33.68,346.63 L32.80,343.91 L32.01,341.16 L31.33,338.38 L30.75,335.58 L30.28,332.76 L29.91,329.92 L29.65,327.08 L29.51,324.23 L29.47,321.38 L29.55,318.53 L29.74,315.70Z"/></clipPath><clipPath id="nc"><path d="M50.26,331.64 L50.42,329.58 L50.65,327.53 L50.97,325.50 L51.36,323.48 L51.83,321.48 L52.37,319.50 L52.98,317.55 L53.66,315.63 L54.41,313.74 L55.22,311.88 L56.10,310.06 L57.04,308.27 L58.04,306.52 L59.10,304.82 L60.21,303.16 L61.37,301.54 L62.58,299.97 L63.83,298.45 L65.13,296.98 L66.47,295.56 L67.85,294.19 L69.26,292.87 L70.71,291.60 L72.18,290.39 L73.68,289.22 L75.21,288.11 L76.75,287.05 L78.32,286.04 L79.90,285.09 L81.50,284.18 L83.11,283.32 L84.72,282.51 L86.35,281.75 L87.98,281.03 L89.61,280.36 L91.24,279.73 L92.88,279.14 L94.51,278.59 L96.14,278.08 L97.76,277.60 L99.38,277.16 L100.99,276.75 L102.59,276.36 L104.19,276.01 L105.78,275.68 L107.36,275.37 L108.93,275.08 L110.49,274.82 L112.05,274.57 L113.60,274.34 L115.15,274.12 L116.69,273.92 L118.22,273.72 L119.76,273.54 L121.29,273.37 L122.82,273.21 L124.35,273.06 L125.88,272.91 L127.41,272.78 L128.96,272.65 L130.50,272.53 L132.06,272.42 L133.62,272.33 L135.20,272.24 L136.79,272.16 L138.38,272.10 L140.00,272.06 L141.63,272.03 L143.27,272.02 L144.93,272.03 L146.60,272.06 L148.29,272.12 L150.00,272.21 L151.72,272.33 L153.46,272.48 L155.21,272.66 L156.98,272.88 L158.76,273.14 L160.55,273.44 L162.35,273.79 L164.16,274.18 L165.98,274.62 L167.80,275.12 L169.63,275.66 L171.45,276.26 L173.27,276.91 L175.09,277.62 L176.90,278.39 L178.70,279.22 L180.48,280.11 L182.25,281.06 L184.00,282.07 L185.73,283.14 L187.44,284.28 L189.11,285.47 L190.76,286.73 L192.37,288.05 L193.95,289.43 L195.48,290.87 L196.97,292.37 L198.42,293.92 L199.81,295.53 L201.16,297.20 L202.45,298.91 L203.69,300.68 L204.87,302.50 L205.98,304.36 L207.03,306.27 L208.02,308.22 L208.94,310.20 L209.79,312.23 L210.57,314.29 L211.27,316.38 L211.90,318.50 L212.45,320.64 L212.92,322.81 L213.32,325.00 L213.63,327.20 L213.86,329.41 L214.01,331.64 L214.08,333.86 L214.06,336.10 L213.96,338.32 L213.77,340.55 L213.49,342.76 L213.13,344.97 L212.69,347.15 L212.16,349.32 L211.54,351.46 L210.84,353.58 L210.06,355.66 L209.20,357.71 L208.26,359.72 L207.24,361.68 L206.14,363.61 L204.97,365.48 L203.72,367.30 L202.41,369.06 L201.02,370.76 L199.58,372.41 L198.07,373.99 L196.51,375.50 L194.89,376.95 L193.22,378.32 L191.50,379.63 L189.74,380.86 L187.94,382.02 L186.11,383.10 L184.25,384.11 L182.36,385.04 L180.45,385.90 L178.52,386.68 L176.58,387.40 L174.63,388.04 L172.67,388.61 L170.71,389.11 L168.76,389.55 L166.81,389.92 L164.87,390.24 L162.94,390.49 L161.02,390.70 L159.13,390.85 L157.25,390.96 L155.39,391.02 L153.56,391.04 L151.75,391.03 L149.97,390.98 L148.22,390.91 L146.49,390.82 L144.78,390.70 L143.10,390.57 L141.45,390.43 L139.82,390.27 L138.22,390.11 L136.63,389.94 L135.07,389.78 L133.52,389.61 L131.99,389.45 L130.47,389.29 L128.96,389.14 L127.45,389.00 L125.96,388.86 L124.46,388.73 L122.97,388.61 L121.47,388.49 L119.97,388.38 L118.46,388.27 L116.94,388.17 L115.41,388.07 L113.86,387.96 L112.30,387.86 L110.73,387.74 L109.13,387.62 L107.52,387.48 L105.89,387.33 L104.24,387.16 L102.57,386.96 L100.88,386.74 L99.18,386.48 L97.45,386.20 L95.72,385.87 L93.97,385.51 L92.21,385.10 L90.45,384.64 L88.67,384.13 L86.90,383.57 L85.13,382.95 L83.36,382.28 L81.59,381.54 L79.84,380.75 L78.11,379.89 L76.39,378.96 L74.70,377.97 L73.04,376.92 L71.40,375.80 L69.80,374.61 L68.25,373.36 L66.73,372.04 L65.26,370.67 L63.85,369.23 L62.49,367.73 L61.18,366.17 L59.94,364.55 L58.76,362.89 L57.65,361.17 L56.61,359.41 L55.64,357.60 L54.75,355.75 L53.93,353.86 L53.19,351.94 L52.53,349.98 L51.95,348.00 L51.45,346.00 L51.03,343.98 L50.70,341.94 L50.45,339.89 L50.28,337.83 L50.19,335.76 L50.19,333.70Z"/></clipPath></defs>
<path d="M30.04,312.87 L30.46,310.07 L30.99,307.29 L31.63,304.53 L32.38,301.82 L33.25,299.14 L34.22,296.50 L35.30,293.92 L36.48,291.39 L37.77,288.91 L39.15,286.50 L40.62,284.16 L42.19,281.88 L43.84,279.68 L45.57,277.56 L47.37,275.51 L49.24,273.55 L51.17,271.66 L53.17,269.87 L55.21,268.15 L57.29,266.52 L59.42,264.98 L61.58,263.52 L63.76,262.14 L65.96,260.85 L68.19,259.63 L70.42,258.49 L72.65,257.43 L74.89,256.44 L77.13,255.51 L79.35,254.66 L81.57,253.86 L83.77,253.13 L85.96,252.45 L88.13,251.82 L90.28,251.24 L92.41,250.71 L94.51,250.22 L96.59,249.78 L98.65,249.37 L100.69,248.99 L102.70,248.65 L104.69,248.34 L106.66,248.06 L108.60,247.81 L110.53,247.59 L112.43,247.39 L114.32,247.21 L116.18,247.06 L118.03,246.93 L119.87,246.82 L121.69,246.74 L123.50,246.67 L125.29,246.63 L127.07,246.60 L128.84,246.60 L130.60,246.62 L132.36,246.65 L134.10,246.70 L135.84,246.78 L137.57,246.86 L139.29,246.97 L141.01,247.09 L142.73,247.23 L144.45,247.38 L146.17,247.54 L147.89,247.72 L149.61,247.91 L151.33,248.12 L153.06,248.34 L154.80,248.56 L156.54,248.81 L158.30,249.06 L160.07,249.33 L161.85,249.61 L163.65,249.91 L165.46,250.22 L167.29,250.56 L169.14,250.91 L171.01,251.28 L172.89,251.68 L174.80,252.11 L176.73,252.57 L178.68,253.06 L180.64,253.59 L182.62,254.15 L184.62,254.76 L186.64,255.42 L188.67,256.12 L190.70,256.88 L192.75,257.69 L194.79,258.57 L196.84,259.50 L198.89,260.50 L200.92,261.57 L202.95,262.70 L204.96,263.91 L206.95,265.18 L208.92,266.53 L210.86,267.96 L212.77,269.46 L214.63,271.03 L216.46,272.67 L218.25,274.39 L219.98,276.18 L221.66,278.04 L223.28,279.97 L224.85,281.96 L226.35,284.02 L227.79,286.15 L229.16,288.33 L230.46,290.57 L231.69,292.87 L232.84,295.21 L233.92,297.61 L234.92,300.05 L235.85,302.54 L236.69,305.07 L237.45,307.64 L238.13,310.24 L238.73,312.87 L239.24,315.53 L239.67,318.22 L240.01,320.93 L240.26,323.66 L240.42,326.41 L240.48,329.17 L240.46,331.94 L240.34,334.72 L240.12,337.49 L239.81,340.27 L239.39,343.03 L238.88,345.79 L238.26,348.53 L237.53,351.24 L236.70,353.93 L235.77,356.59 L234.72,359.21 L233.57,361.79 L232.31,364.31 L230.95,366.79 L229.48,369.19 L227.90,371.54 L226.23,373.81 L224.45,376.00 L222.58,378.10 L220.61,380.12 L218.56,382.05 L216.42,383.87 L214.21,385.60 L211.92,387.22 L209.57,388.74 L207.15,390.15 L204.68,391.45 L202.16,392.64 L199.61,393.73 L197.02,394.70 L194.41,395.58 L191.78,396.35 L189.13,397.02 L186.48,397.60 L183.84,398.09 L181.19,398.49 L178.56,398.82 L175.95,399.08 L173.36,399.28 L170.79,399.41 L168.24,399.50 L165.73,399.55 L163.24,399.56 L160.79,399.54 L158.36,399.49 L155.97,399.44 L153.60,399.37 L151.26,399.30 L148.94,399.23 L146.64,399.16 L144.35,399.10 L142.08,399.05 L139.82,399.01 L137.57,398.98 L135.31,398.97 L133.06,398.96 L130.79,398.97 L128.52,398.98 L126.23,399.00 L123.92,399.02 L121.60,399.04 L119.25,399.04 L116.88,399.04 L114.49,399.01 L112.07,398.96 L109.62,398.88 L107.15,398.76 L104.66,398.59 L102.15,398.38 L99.62,398.11 L97.07,397.78 L94.51,397.38 L91.94,396.91 L89.37,396.36 L86.79,395.73 L84.22,395.02 L81.66,394.22 L79.11,393.33 L76.58,392.35 L74.08,391.27 L71.61,390.10 L69.17,388.84 L66.76,387.48 L64.41,386.03 L62.10,384.49 L59.84,382.85 L57.64,381.13 L55.51,379.32 L53.43,377.43 L51.43,375.45 L49.50,373.40 L47.64,371.27 L45.85,369.07 L44.15,366.80 L42.53,364.47 L41.00,362.08 L39.55,359.62 L38.19,357.12 L36.92,354.56 L35.75,351.96 L34.66,349.31 L33.68,346.63 L32.80,343.91 L32.01,341.16 L31.33,338.38 L30.75,335.58 L30.28,332.76 L29.91,329.92 L29.65,327.08 L29.51,324.23 L29.47,321.38 L29.55,318.53 L29.74,315.70Z" fill="#a9d3ec"/>
<path d="M46.39,288.44 L48.06,285.93 L49.84,283.52 L51.73,281.20 L53.71,278.99 L55.79,276.89 L57.94,274.89 L60.17,273.01 L62.46,271.24 L64.80,269.58 L67.18,268.03 L69.59,266.59 L72.03,265.26 L74.49,264.03 L76.95,262.90 L79.41,261.87 L81.87,260.93 L84.31,260.08 L86.73,259.30 L89.13,258.61 L91.51,257.98 L93.85,257.42 L96.16,256.91 L98.44,256.47 L100.68,256.07 L102.88,255.71 L105.05,255.40 L107.19,255.13 L109.29,254.90 L111.36,254.69 L113.40,254.52 L115.40,254.37 L117.38,254.25 L119.33,254.15 L121.26,254.08 L123.17,254.03 L125.06,254.01 L126.92,254.00 L128.77,254.02 L130.61,254.05 L132.43,254.11 L134.23,254.18 L136.03,254.27 L137.82,254.38 L139.61,254.50 L141.38,254.64 L143.16,254.79 L144.94,254.95 L146.71,255.13 L148.49,255.32 L150.28,255.51 L152.08,255.72 L153.89,255.93 L155.72,256.16 L157.57,256.40 L159.43,256.65 L161.32,256.92 L163.23,257.20 L165.17,257.50 L167.14,257.83 L169.14,258.18 L171.17,258.56 L173.24,258.98 L175.33,259.44 L177.45,259.95 L179.60,260.51 L181.77,261.12 L183.96,261.80 L186.17,262.54 L188.40,263.36 L190.63,264.25 L192.86,265.23 L195.09,266.29 L197.32,267.44 L199.52,268.68 L201.70,270.02 L203.86,271.45 L205.97,272.98 L208.04,274.61 L210.07,276.33 L212.03,278.15 L213.94,280.06 L215.77,282.07 L217.53,284.16 L219.22,286.34 L220.82,288.60 L222.34,290.95 L223.77,293.37 L225.10,295.86 L226.34,298.41 L227.49,301.03 L228.53,303.71 L229.47,306.44 L230.31,309.23 L231.04,312.06 L231.66,314.92 L232.18,317.83 L232.58,320.77 L232.87,323.73 L233.04,326.71 L233.09,329.72 L233.02,332.73 L232.83,335.74 L232.51,338.76 L232.06,341.76 L231.48,344.75 L230.76,347.71 L229.91,350.65 L228.91,353.54 L227.78,356.39 L226.51,359.17 L225.10,361.89 L223.55,364.54 L221.87,367.09 L220.05,369.56 L218.10,371.92 L216.02,374.17 L213.83,376.30 L211.53,378.31 L209.12,380.18 L206.62,381.92 L206.62,381.92 L208.63,379.72 L210.81,377.67 L212.93,375.55 L214.95,373.33 L216.87,371.02 L218.68,368.62 L220.36,366.12 L221.91,363.55 L223.33,360.90 L224.62,358.19 L225.77,355.41 L226.78,352.59 L227.66,349.73 L228.40,346.83 L229.02,343.91 L229.50,340.98 L229.85,338.03 L230.08,335.08 L230.18,332.14 L230.17,329.20 L230.03,326.28 L229.79,323.38 L229.43,320.50 L228.96,317.66 L228.39,314.85 L227.71,312.08 L226.93,309.36 L226.04,306.68 L225.06,304.06 L223.98,301.49 L222.81,298.99 L221.55,296.55 L220.20,294.17 L218.75,291.87 L217.23,289.65 L215.63,287.51 L213.95,285.45 L212.19,283.48 L210.37,281.59 L208.49,279.80 L206.55,278.10 L204.56,276.50 L202.52,274.99 L200.45,273.58 L198.35,272.26 L196.22,271.04 L194.07,269.91 L191.91,268.86 L189.75,267.91 L187.59,267.04 L185.43,266.25 L183.29,265.53 L181.16,264.88 L179.06,264.29 L176.98,263.77 L174.93,263.29 L172.91,262.87 L170.92,262.48 L168.96,262.13 L167.04,261.82 L165.16,261.53 L163.30,261.26 L161.48,261.01 L159.68,260.77 L157.91,260.55 L156.17,260.33 L154.45,260.13 L152.75,259.93 L151.06,259.73 L149.39,259.54 L147.73,259.36 L146.07,259.17 L144.42,259.00 L142.77,258.83 L141.12,258.67 L139.47,258.51 L137.81,258.37 L136.14,258.24 L134.46,258.11 L132.77,258.00 L131.06,257.91 L129.34,257.82 L127.60,257.75 L125.84,257.70 L124.06,257.67 L122.25,257.65 L120.42,257.65 L118.56,257.67 L116.67,257.71 L114.75,257.78 L112.79,257.87 L110.80,257.98 L108.77,258.13 L106.69,258.30 L104.58,258.52 L102.43,258.77 L100.24,259.06 L98.00,259.40 L95.73,259.80 L93.42,260.25 L91.06,260.77 L88.68,261.36 L86.27,262.02 L83.83,262.76 L81.37,263.58 L78.89,264.50 L76.41,265.52 L73.92,266.63 L71.44,267.85 L68.98,269.18 L66.54,270.61 L64.13,272.17 L61.76,273.83 L59.44,275.61 L57.18,277.50 L54.97,279.50 L52.83,281.61 L50.75,283.82 L48.71,286.13 L46.39,288.44Z" fill="#88c0e5"/>
<path d="M190.20,260.24 L191.25,260.66 L192.29,261.09 L193.34,261.54 L194.39,262.01 L195.43,262.50 L196.48,263.00 L197.52,263.52 L198.56,264.06 L199.60,264.62 L200.64,265.20 L201.67,265.80 L202.70,266.42 L203.72,267.05 L204.73,267.71 L205.74,268.39 L206.74,269.08 L207.74,269.80 L208.72,270.54 L209.70,271.30 L210.67,272.07 L211.62,272.87 L212.57,273.69 L213.50,274.53 L214.42,275.39 L215.33,276.27 L216.22,277.16 L217.11,278.08 L217.97,279.02 L218.83,279.97 L219.66,280.95 L220.48,281.94 L221.29,282.95 L222.08,283.98 L222.85,285.02 L223.60,286.09 L224.34,287.17 L225.06,288.27 L225.75,289.38 L226.43,290.51 L227.10,291.65 L227.74,292.81 L228.36,293.99 L228.96,295.17 L229.54,296.38 L230.11,297.59 L230.65,298.82 L231.17,300.06 L231.67,301.32 L232.14,302.58 L232.60,303.86 L233.03,305.15 L233.45,306.45 L233.84,307.76 L234.20,309.07 L234.55,310.40 L234.87,311.74 L235.17,313.08 L235.45,314.44 L235.71,315.80 L235.94,317.17 L236.15,318.54 L236.33,319.92 L236.49,321.31 L236.63,322.70 L236.74,324.10 L236.82,325.50 L236.89,326.90 L236.92,328.31 L236.94,329.72 L236.92,331.14 L236.88,332.55 L236.82,333.97 L236.73,335.38 L236.61,336.80 L236.46,338.22 L236.29,339.63 L236.09,341.05 L235.87,342.46 L235.61,343.86 L235.33,345.27 L235.02,346.66 L234.68,348.06 L234.31,349.44 L233.92,350.82 L233.49,352.20 L233.04,353.56 L232.56,354.91 L232.04,356.26 L231.50,357.59 L230.93,358.91 L230.33,360.22 L229.70,361.52 L229.04,362.80 L228.36,364.06 L227.64,365.31 L226.89,366.54 L226.12,367.76 L225.32,368.95 L224.49,370.13 L223.63,371.29 L222.75,372.42 L221.83,373.53 L220.89,374.62 L219.93,375.69 L218.94,376.73 L217.93,377.75 L216.89,378.74 L215.82,379.71 L214.74,380.65 L213.63,381.56 L212.50,382.44 L211.35,383.30 L210.19,384.13 L209.00,384.93 L207.79,385.70 L206.57,386.44 L205.33,387.15 L204.08,387.83 L202.81,388.48 L201.53,389.10 L201.53,389.10 L202.54,388.16 L203.68,387.38 L204.84,386.61 L206.00,385.82 L207.14,385.02 L208.27,384.20 L209.39,383.35 L210.50,382.48 L211.58,381.59 L212.65,380.67 L213.70,379.73 L214.72,378.77 L215.73,377.78 L216.71,376.77 L217.67,375.74 L218.61,374.69 L219.52,373.61 L220.41,372.51 L221.27,371.39 L222.11,370.25 L222.92,369.10 L223.70,367.92 L224.46,366.73 L225.19,365.52 L225.89,364.29 L226.56,363.05 L227.20,361.79 L227.82,360.52 L228.41,359.24 L228.97,357.95 L229.50,356.64 L230.01,355.32 L230.48,354.00 L230.93,352.66 L231.35,351.32 L231.74,349.97 L232.11,348.61 L232.44,347.25 L232.75,345.88 L233.03,344.51 L233.29,343.13 L233.52,341.75 L233.72,340.37 L233.89,338.98 L234.04,337.60 L234.17,336.21 L234.26,334.83 L234.34,333.44 L234.39,332.06 L234.41,330.67 L234.41,329.29 L234.38,327.92 L234.33,326.54 L234.26,325.17 L234.17,323.81 L234.05,322.44 L233.90,321.09 L233.74,319.74 L233.55,318.39 L233.34,317.05 L233.11,315.72 L232.85,314.40 L232.58,313.08 L232.28,311.77 L231.96,310.47 L231.62,309.18 L231.26,307.89 L230.88,306.62 L230.48,305.36 L230.06,304.10 L229.61,302.86 L229.15,301.63 L228.67,300.41 L228.16,299.20 L227.64,298.00 L227.10,296.82 L226.54,295.64 L225.96,294.49 L225.36,293.34 L224.74,292.21 L224.11,291.09 L223.45,289.99 L222.78,288.90 L222.10,287.83 L221.39,286.78 L220.67,285.74 L219.93,284.71 L219.18,283.70 L218.41,282.71 L217.62,281.74 L216.83,280.78 L216.01,279.84 L215.19,278.92 L214.35,278.02 L213.49,277.13 L212.63,276.26 L211.75,275.41 L210.87,274.58 L209.97,273.77 L209.06,272.97 L208.14,272.19 L207.22,271.43 L206.28,270.69 L205.34,269.97 L204.40,269.27 L203.44,268.58 L202.48,267.91 L201.52,267.25 L200.55,266.62 L199.58,266.00 L198.61,265.39 L197.64,264.80 L196.67,264.23 L195.69,263.66 L194.72,263.11 L193.76,262.57 L192.80,262.04 L191.86,261.50 L190.94,260.95 L190.20,260.24Z" fill="#8cc2e6"/>
<path d="M75.97,261.18 L78.02,260.31 L80.07,259.50 L82.11,258.75 L84.14,258.06 L86.15,257.42 L88.16,256.82 L90.14,256.28 L92.10,255.78 L94.04,255.32 L95.97,254.91 L97.86,254.52 L99.74,254.18 L101.59,253.86 L103.42,253.57 L105.23,253.31 L107.01,253.08 L108.77,252.87 L110.52,252.68 L112.24,252.51 L113.94,252.37 L115.62,252.24 L117.28,252.13 L118.93,252.04 L120.56,251.97 L122.18,251.91 L123.78,251.87 L125.37,251.85 L126.95,251.84 L128.52,251.84 L130.08,251.86 L131.62,251.90 L133.16,251.95 L134.70,252.01 L136.22,252.09 L137.74,252.17 L139.26,252.27 L140.77,252.39 L142.28,252.51 L143.79,252.64 L145.30,252.78 L146.81,252.93 L148.32,253.09 L149.84,253.26 L151.36,253.43 L152.89,253.62 L154.43,253.81 L155.98,254.01 L157.53,254.22 L159.11,254.44 L160.69,254.67 L162.29,254.91 L163.91,255.16 L165.54,255.43 L167.20,255.71 L168.87,256.01 L170.56,256.34 L172.27,256.68 L174.00,257.05 L175.76,257.45 L177.53,257.87 L179.31,258.33 L181.12,258.83 L182.94,259.37 L184.78,259.95 L186.62,260.57 L188.48,261.24 L190.34,261.97 L192.21,262.74 L194.07,263.58 L195.94,264.47 L197.80,265.42 L199.65,266.43 L201.48,267.51 L203.30,268.64 L205.10,269.85 L206.87,271.12 L208.62,272.45 L210.33,273.85 L212.01,275.32 L213.65,276.85 L215.25,278.45 L216.80,280.11 L218.30,281.83 L219.75,283.61 L221.15,285.44 L222.49,287.34 L223.78,289.29 L225.00,291.29 L226.16,293.34 L227.26,295.44 L228.30,297.58 L229.26,299.77 L230.16,301.99 L230.99,304.26 L231.75,306.56 L232.44,308.90 L233.05,311.26 L233.60,313.65 L234.07,316.07 L234.46,318.51 L234.78,320.98 L235.01,323.46 L235.17,325.95 L235.25,328.46 L235.25,330.98 L235.16,333.50 L234.99,336.02 L234.73,338.54 L234.38,341.06 L233.95,343.57 L233.42,346.06 L232.81,348.54 L232.09,351.00 L231.29,353.43 L230.39,355.83 L229.39,358.19 L228.31,360.51 L227.12,362.78 L225.84,365.01 L224.47,367.17 L224.47,367.17 L225.21,364.63 L226.24,362.29 L227.23,359.95 L228.16,357.58 L229.01,355.19 L229.78,352.77 L230.46,350.34 L231.05,347.89 L231.56,345.42 L231.98,342.94 L232.31,340.46 L232.57,337.97 L232.73,335.48 L232.82,333.00 L232.82,330.53 L232.75,328.06 L232.60,325.61 L232.37,323.17 L232.06,320.75 L231.68,318.35 L231.23,315.98 L230.71,313.63 L230.11,311.31 L229.45,309.02 L228.72,306.76 L227.92,304.54 L227.05,302.36 L226.12,300.22 L225.13,298.11 L224.07,296.06 L222.95,294.05 L221.77,292.08 L220.54,290.17 L219.25,288.31 L217.90,286.51 L216.50,284.76 L215.05,283.08 L213.55,281.45 L212.01,279.88 L210.43,278.38 L208.81,276.94 L207.15,275.56 L205.47,274.25 L203.75,273.00 L202.01,271.82 L200.24,270.70 L198.47,269.65 L196.67,268.66 L194.87,267.73 L193.06,266.86 L191.25,266.04 L189.43,265.29 L187.63,264.59 L185.82,263.94 L184.03,263.33 L182.25,262.78 L180.49,262.26 L178.74,261.79 L177.00,261.35 L175.29,260.95 L173.60,260.57 L171.93,260.23 L170.28,259.91 L168.65,259.61 L167.04,259.33 L165.46,259.07 L163.89,258.82 L162.35,258.58 L160.82,258.36 L159.31,258.14 L157.82,257.94 L156.34,257.74 L154.87,257.54 L153.42,257.35 L151.97,257.17 L150.54,256.99 L149.11,256.81 L147.68,256.64 L146.26,256.47 L144.85,256.31 L143.43,256.16 L142.01,256.01 L140.59,255.86 L139.16,255.73 L137.73,255.60 L136.30,255.48 L134.86,255.37 L133.40,255.26 L131.94,255.17 L130.47,255.09 L128.99,255.02 L127.50,254.96 L125.99,254.91 L124.46,254.88 L122.92,254.86 L121.37,254.85 L119.79,254.85 L118.20,254.87 L116.58,254.91 L114.95,254.96 L113.29,255.02 L111.61,255.11 L109.90,255.21 L108.17,255.33 L106.41,255.48 L104.62,255.65 L102.80,255.84 L100.95,256.06 L99.08,256.31 L97.17,256.59 L95.24,256.90 L93.27,257.25 L91.27,257.63 L89.25,258.06 L87.19,258.53 L85.10,259.04 L82.97,259.60 L80.81,260.19 L78.57,260.80 L75.97,261.18Z" fill="#5ca7db"/>
<path d="M229.39,365.89 L228.03,368.12 L226.57,370.30 L225.03,372.42 L223.39,374.47 L221.67,376.44 L219.87,378.34 L217.99,380.15 L216.03,381.89 L214.00,383.53 L211.91,385.08 L209.75,386.54 L207.54,387.91 L205.27,389.18 L202.96,390.35 L200.61,391.43 L198.23,392.41 L195.82,393.30 L193.39,394.09 L190.94,394.80 L188.48,395.42 L186.02,395.95 L183.56,396.41 L181.10,396.79 L178.65,397.10 L176.22,397.35 L173.80,397.54 L171.40,397.68 L169.03,397.77 L166.68,397.82 L164.36,397.84 L162.06,397.82 L159.79,397.79 L157.55,397.73 L155.33,397.67 L153.14,397.60 L150.97,397.52 L148.83,397.45 L146.70,397.38 L144.58,397.31 L142.48,397.26 L140.39,397.22 L138.30,397.19 L136.22,397.17 L134.13,397.16 L132.04,397.17 L129.94,397.18 L127.83,397.20 L125.71,397.23 L123.57,397.25 L121.42,397.27 L119.24,397.29 L117.04,397.29 L114.82,397.27 L112.58,397.24 L110.31,397.17 L108.02,397.07 L105.72,396.94 L103.39,396.76 L101.04,396.54 L98.68,396.26 L96.31,395.93 L93.92,395.53 L91.53,395.07 L89.14,394.54 L86.75,393.94 L84.36,393.26 L81.98,392.50 L79.61,391.67 L77.27,390.75 L74.94,389.75 L72.64,388.67 L70.37,387.50 L68.13,386.25 L65.94,384.92 L63.78,383.51 L61.67,382.01 L59.61,380.44 L57.60,378.79 L55.65,377.07 L53.76,375.27 L51.92,373.40 L50.16,371.46 L48.45,369.46 L46.82,367.40 L45.26,365.27 L43.77,363.09 L42.36,360.86 L41.02,358.58 L39.76,356.25 L38.58,353.87 L37.49,351.46 L36.47,349.00 L35.55,346.51 L34.71,343.99 L33.95,341.44 L33.29,338.87 L32.72,336.28 L32.24,333.66 L31.86,331.04 L31.57,328.40 L31.37,325.75 L31.28,323.11 L31.28,320.46 L31.38,317.82 L31.58,315.18 L31.88,312.56 L32.28,309.96 L32.78,307.38 L33.38,304.82 L34.08,302.30 L34.88,299.81 L35.77,297.36 L36.76,294.95 L37.84,292.58 L39.01,290.27 L40.27,288.01 L41.61,285.81 L43.03,283.67 L44.53,281.59 L46.10,279.58 L46.10,279.58 L45.14,281.80 L43.90,283.94 L42.69,286.11 L41.52,288.33 L40.42,290.59 L39.39,292.90 L38.44,295.24 L37.58,297.63 L36.80,300.05 L36.11,302.51 L35.51,304.99 L35.00,307.50 L34.59,310.03 L34.28,312.57 L34.05,315.13 L33.93,317.70 L33.90,320.27 L33.96,322.85 L34.11,325.42 L34.36,327.99 L34.70,330.55 L35.14,333.09 L35.66,335.62 L36.27,338.13 L36.96,340.61 L37.74,343.07 L38.61,345.50 L39.56,347.90 L40.58,350.26 L41.69,352.58 L42.88,354.87 L44.14,357.10 L45.47,359.29 L46.88,361.43 L48.36,363.52 L49.90,365.54 L51.52,367.51 L53.20,369.42 L54.94,371.27 L56.74,373.04 L58.60,374.75 L60.51,376.39 L62.48,377.95 L64.50,379.44 L66.56,380.85 L68.66,382.18 L70.80,383.43 L72.98,384.60 L75.19,385.69 L77.42,386.70 L79.68,387.63 L81.96,388.48 L84.25,389.25 L86.55,389.95 L88.86,390.56 L91.17,391.11 L93.48,391.59 L95.79,392.00 L98.09,392.35 L100.37,392.64 L102.64,392.87 L104.90,393.06 L107.13,393.21 L109.35,393.31 L111.54,393.38 L113.71,393.42 L115.85,393.44 L117.98,393.44 L120.08,393.43 L122.16,393.41 L124.21,393.39 L126.25,393.36 L128.28,393.34 L130.29,393.33 L132.29,393.33 L134.29,393.34 L136.28,393.37 L138.27,393.41 L140.26,393.47 L142.27,393.54 L144.28,393.63 L146.30,393.73 L148.35,393.85 L150.41,393.97 L152.50,394.09 L154.61,394.22 L156.75,394.34 L158.92,394.45 L161.12,394.55 L163.35,394.63 L165.60,394.68 L167.89,394.70 L170.21,394.69 L172.55,394.62 L174.92,394.51 L177.31,394.35 L179.71,394.12 L182.13,393.82 L184.56,393.45 L187.00,393.01 L189.43,392.48 L191.86,391.87 L194.28,391.17 L196.68,390.38 L199.07,389.50 L201.42,388.52 L203.74,387.45 L206.02,386.28 L208.26,385.02 L210.45,383.66 L212.59,382.22 L214.66,380.68 L216.68,379.06 L218.63,377.35 L220.52,375.57 L222.34,373.71 L224.10,371.79 L225.80,369.81 L227.47,367.79 L229.39,365.89Z" fill="#e8f4fb"/>
<path d="M30.04,312.87 L30.46,310.07 L30.99,307.29 L31.63,304.53 L32.38,301.82 L33.25,299.14 L34.22,296.50 L35.30,293.92 L36.48,291.39 L37.77,288.91 L39.15,286.50 L40.62,284.16 L42.19,281.88 L43.84,279.68 L45.57,277.56 L47.37,275.51 L49.24,273.55 L51.17,271.66 L53.17,269.87 L55.21,268.15 L57.29,266.52 L59.42,264.98 L61.58,263.52 L63.76,262.14 L65.96,260.85 L68.19,259.63 L70.42,258.49 L72.65,257.43 L74.89,256.44 L77.13,255.51 L79.35,254.66 L81.57,253.86 L83.77,253.13 L85.96,252.45 L88.13,251.82 L90.28,251.24 L92.41,250.71 L94.51,250.22 L96.59,249.78 L98.65,249.37 L100.69,248.99 L102.70,248.65 L104.69,248.34 L106.66,248.06 L108.60,247.81 L110.53,247.59 L112.43,247.39 L114.32,247.21 L116.18,247.06 L118.03,246.93 L119.87,246.82 L121.69,246.74 L123.50,246.67 L125.29,246.63 L127.07,246.60 L128.84,246.60 L130.60,246.62 L132.36,246.65 L134.10,246.70 L135.84,246.78 L137.57,246.86 L139.29,246.97 L141.01,247.09 L142.73,247.23 L144.45,247.38 L146.17,247.54 L147.89,247.72 L149.61,247.91 L151.33,248.12 L153.06,248.34 L154.80,248.56 L156.54,248.81 L158.30,249.06 L160.07,249.33 L161.85,249.61 L163.65,249.91 L165.46,250.22 L167.29,250.56 L169.14,250.91 L171.01,251.28 L172.89,251.68 L174.80,252.11 L176.73,252.57 L178.68,253.06 L180.64,253.59 L182.62,254.15 L184.62,254.76 L186.64,255.42 L188.67,256.12 L190.70,256.88 L192.75,257.69 L194.79,258.57 L196.84,259.50 L198.89,260.50 L200.92,261.57 L202.95,262.70 L204.96,263.91 L206.95,265.18 L208.92,266.53 L210.86,267.96 L212.77,269.46 L214.63,271.03 L216.46,272.67 L218.25,274.39 L219.98,276.18 L221.66,278.04 L223.28,279.97 L224.85,281.96 L226.35,284.02 L227.79,286.15 L229.16,288.33 L230.46,290.57 L231.69,292.87 L232.84,295.21 L233.92,297.61 L234.92,300.05 L235.85,302.54 L236.69,305.07 L237.45,307.64 L238.13,310.24 L238.73,312.87 L239.24,315.53 L239.67,318.22 L240.01,320.93 L240.26,323.66 L240.42,326.41 L240.48,329.17 L240.46,331.94 L240.34,334.72 L240.12,337.49 L239.81,340.27 L239.39,343.03 L238.88,345.79 L238.26,348.53 L237.53,351.24 L236.70,353.93 L235.77,356.59 L234.72,359.21 L233.57,361.79 L232.31,364.31 L230.95,366.79 L229.48,369.19 L227.90,371.54 L226.23,373.81 L224.45,376.00 L222.58,378.10 L220.61,380.12 L218.56,382.05 L216.42,383.87 L214.21,385.60 L211.92,387.22 L209.57,388.74 L207.15,390.15 L204.68,391.45 L202.16,392.64 L199.61,393.73 L197.02,394.70 L194.41,395.58 L191.78,396.35 L189.13,397.02 L186.48,397.60 L183.84,398.09 L181.19,398.49 L178.56,398.82 L175.95,399.08 L173.36,399.28 L170.79,399.41 L168.24,399.50 L165.73,399.55 L163.24,399.56 L160.79,399.54 L158.36,399.49 L155.97,399.44 L153.60,399.37 L151.26,399.30 L148.94,399.23 L146.64,399.16 L144.35,399.10 L142.08,399.05 L139.82,399.01 L137.57,398.98 L135.31,398.97 L133.06,398.96 L130.79,398.97 L128.52,398.98 L126.23,399.00 L123.92,399.02 L121.60,399.04 L119.25,399.04 L116.88,399.04 L114.49,399.01 L112.07,398.96 L109.62,398.88 L107.15,398.76 L104.66,398.59 L102.15,398.38 L99.62,398.11 L97.07,397.78 L94.51,397.38 L91.94,396.91 L89.37,396.36 L86.79,395.73 L84.22,395.02 L81.66,394.22 L79.11,393.33 L76.58,392.35 L74.08,391.27 L71.61,390.10 L69.17,388.84 L66.76,387.48 L64.41,386.03 L62.10,384.49 L59.84,382.85 L57.64,381.13 L55.51,379.32 L53.43,377.43 L51.43,375.45 L49.50,373.40 L47.64,371.27 L45.85,369.07 L44.15,366.80 L42.53,364.47 L41.00,362.08 L39.55,359.62 L38.19,357.12 L36.92,354.56 L35.75,351.96 L34.66,349.31 L33.68,346.63 L32.80,343.91 L32.01,341.16 L31.33,338.38 L30.75,335.58 L30.28,332.76 L29.91,329.92 L29.65,327.08 L29.51,324.23 L29.47,321.38 L29.55,318.53 L29.74,315.70Z" fill="none" stroke="#44505a" stroke-width="0.6"/>
<path d="M50.26,331.64 L50.42,329.58 L50.65,327.53 L50.97,325.50 L51.36,323.48 L51.83,321.48 L52.37,319.50 L52.98,317.55 L53.66,315.63 L54.41,313.74 L55.22,311.88 L56.10,310.06 L57.04,308.27 L58.04,306.52 L59.10,304.82 L60.21,303.16 L61.37,301.54 L62.58,299.97 L63.83,298.45 L65.13,296.98 L66.47,295.56 L67.85,294.19 L69.26,292.87 L70.71,291.60 L72.18,290.39 L73.68,289.22 L75.21,288.11 L76.75,287.05 L78.32,286.04 L79.90,285.09 L81.50,284.18 L83.11,283.32 L84.72,282.51 L86.35,281.75 L87.98,281.03 L89.61,280.36 L91.24,279.73 L92.88,279.14 L94.51,278.59 L96.14,278.08 L97.76,277.60 L99.38,277.16 L100.99,276.75 L102.59,276.36 L104.19,276.01 L105.78,275.68 L107.36,275.37 L108.93,275.08 L110.49,274.82 L112.05,274.57 L113.60,274.34 L115.15,274.12 L116.69,273.92 L118.22,273.72 L119.76,273.54 L121.29,273.37 L122.82,273.21 L124.35,273.06 L125.88,272.91 L127.41,272.78 L128.96,272.65 L130.50,272.53 L132.06,272.42 L133.62,272.33 L135.20,272.24 L136.79,272.16 L138.38,272.10 L140.00,272.06 L141.63,272.03 L143.27,272.02 L144.93,272.03 L146.60,272.06 L148.29,272.12 L150.00,272.21 L151.72,272.33 L153.46,272.48 L155.21,272.66 L156.98,272.88 L158.76,273.14 L160.55,273.44 L162.35,273.79 L164.16,274.18 L165.98,274.62 L167.80,275.12 L169.63,275.66 L171.45,276.26 L173.27,276.91 L175.09,277.62 L176.90,278.39 L178.70,279.22 L180.48,280.11 L182.25,281.06 L184.00,282.07 L185.73,283.14 L187.44,284.28 L189.11,285.47 L190.76,286.73 L192.37,288.05 L193.95,289.43 L195.48,290.87 L196.97,292.37 L198.42,293.92 L199.81,295.53 L201.16,297.20 L202.45,298.91 L203.69,300.68 L204.87,302.50 L205.98,304.36 L207.03,306.27 L208.02,308.22 L208.94,310.20 L209.79,312.23 L210.57,314.29 L211.27,316.38 L211.90,318.50 L212.45,320.64 L212.92,322.81 L213.32,325.00 L213.63,327.20 L213.86,329.41 L214.01,331.64 L214.08,333.86 L214.06,336.10 L213.96,338.32 L213.77,340.55 L213.49,342.76 L213.13,344.97 L212.69,347.15 L212.16,349.32 L211.54,351.46 L210.84,353.58 L210.06,355.66 L209.20,357.71 L208.26,359.72 L207.24,361.68 L206.14,363.61 L204.97,365.48 L203.72,367.30 L202.41,369.06 L201.02,370.76 L199.58,372.41 L198.07,373.99 L196.51,375.50 L194.89,376.95 L193.22,378.32 L191.50,379.63 L189.74,380.86 L187.94,382.02 L186.11,383.10 L184.25,384.11 L182.36,385.04 L180.45,385.90 L178.52,386.68 L176.58,387.40 L174.63,388.04 L172.67,388.61 L170.71,389.11 L168.76,389.55 L166.81,389.92 L164.87,390.24 L162.94,390.49 L161.02,390.70 L159.13,390.85 L157.25,390.96 L155.39,391.02 L153.56,391.04 L151.75,391.03 L149.97,390.98 L148.22,390.91 L146.49,390.82 L144.78,390.70 L143.10,390.57 L141.45,390.43 L139.82,390.27 L138.22,390.11 L136.63,389.94 L135.07,389.78 L133.52,389.61 L131.99,389.45 L130.47,389.29 L128.96,389.14 L127.45,389.00 L125.96,388.86 L124.46,388.73 L122.97,388.61 L121.47,388.49 L119.97,388.38 L118.46,388.27 L116.94,388.17 L115.41,388.07 L113.86,387.96 L112.30,387.86 L110.73,387.74 L109.13,387.62 L107.52,387.48 L105.89,387.33 L104.24,387.16 L102.57,386.96 L100.88,386.74 L99.18,386.48 L97.45,386.20 L95.72,385.87 L93.97,385.51 L92.21,385.10 L90.45,384.64 L88.67,384.13 L86.90,383.57 L85.13,382.95 L83.36,382.28 L81.59,381.54 L79.84,380.75 L78.11,379.89 L76.39,378.96 L74.70,377.97 L73.04,376.92 L71.40,375.80 L69.80,374.61 L68.25,373.36 L66.73,372.04 L65.26,370.67 L63.85,369.23 L62.49,367.73 L61.18,366.17 L59.94,364.55 L58.76,362.89 L57.65,361.17 L56.61,359.41 L55.64,357.60 L54.75,355.75 L53.93,353.86 L53.19,351.94 L52.53,349.98 L51.95,348.00 L51.45,346.00 L51.03,343.98 L50.70,341.94 L50.45,339.89 L50.28,337.83 L50.19,335.76 L50.19,333.70Z" fill="#c9a2c3"/>
<path d="M55.72,318.72 L56.59,316.25 L57.58,313.84 L58.69,311.49 L59.90,309.20 L61.21,306.98 L62.61,304.83 L64.11,302.76 L65.69,300.78 L67.34,298.88 L69.07,297.06 L70.86,295.33 L72.71,293.70 L74.61,292.15 L76.55,290.69 L78.53,289.33 L80.55,288.05 L82.59,286.86 L84.65,285.76 L86.73,284.74 L88.82,283.80 L90.91,282.94 L93.01,282.16 L95.10,281.44 L97.18,280.79 L99.26,280.20 L101.32,279.67 L103.37,279.18 L105.41,278.75 L107.43,278.35 L109.43,278.00 L111.42,277.67 L113.40,277.37 L115.36,277.10 L117.31,276.85 L119.25,276.62 L121.19,276.40 L123.13,276.19 L125.07,276.00 L127.01,275.82 L128.96,275.65 L130.92,275.49 L132.89,275.35 L134.89,275.22 L136.90,275.11 L138.94,275.02 L141.00,274.96 L143.09,274.93 L145.21,274.93 L147.37,274.98 L149.55,275.07 L151.76,275.20 L153.99,275.40 L156.26,275.66 L158.54,275.99 L160.85,276.39 L163.18,276.87 L165.52,277.43 L167.86,278.09 L170.21,278.83 L172.55,279.68 L174.89,280.62 L177.21,281.67 L179.51,282.82 L181.78,284.08 L184.01,285.44 L186.19,286.92 L188.33,288.50 L190.41,290.18 L192.43,291.97 L194.37,293.87 L196.24,295.86 L198.02,297.95 L199.71,300.13 L201.31,302.40 L202.80,304.76 L204.18,307.19 L205.45,309.70 L206.60,312.28 L207.63,314.91 L208.53,317.60 L209.30,320.34 L209.94,323.12 L210.44,325.94 L210.80,328.78 L211.01,331.64 L211.08,334.50 L211.01,337.37 L210.78,340.24 L210.41,343.08 L209.89,345.91 L209.22,348.70 L208.41,351.44 L207.45,354.14 L206.35,356.78 L205.11,359.35 L203.73,361.85 L202.22,364.26 L200.59,366.58 L198.84,368.79 L196.98,370.91 L195.01,372.91 L192.94,374.80 L190.79,376.56 L188.55,378.20 L186.25,379.71 L183.88,381.09 L181.46,382.34 L179.00,383.46 L176.51,384.45 L174.00,385.32 L171.48,386.06 L168.95,386.68 L166.43,387.19 L163.92,387.59 L161.44,387.90 L158.98,388.10 L156.56,388.23 L154.17,388.28 L151.83,388.26 L149.54,388.18 L149.54,388.18 L151.08,386.38 L152.97,385.57 L154.94,384.90 L156.95,384.28 L158.99,383.66 L161.06,383.01 L163.14,382.32 L165.23,381.57 L167.33,380.75 L169.42,379.85 L171.49,378.88 L173.54,377.81 L175.56,376.64 L177.54,375.38 L179.47,374.03 L181.35,372.57 L183.16,371.01 L184.89,369.36 L186.54,367.62 L188.11,365.79 L189.58,363.87 L190.94,361.87 L192.20,359.79 L193.35,357.65 L194.38,355.45 L195.29,353.19 L196.08,350.88 L196.74,348.54 L197.27,346.16 L197.68,343.75 L197.96,341.33 L198.11,338.90 L198.14,336.47 L198.03,334.05 L197.81,331.64 L197.46,329.24 L196.99,326.88 L196.40,324.55 L195.70,322.26 L194.88,320.01 L193.97,317.82 L192.94,315.68 L191.82,313.61 L190.61,311.60 L189.30,309.67 L187.91,307.81 L186.45,306.04 L184.91,304.35 L183.30,302.74 L181.63,301.23 L179.90,299.80 L178.13,298.47 L176.31,297.23 L174.45,296.09 L172.57,295.04 L170.66,294.08 L168.74,293.22 L166.80,292.45 L164.86,291.77 L162.91,291.17 L160.98,290.65 L159.05,290.21 L157.14,289.85 L155.25,289.55 L153.39,289.32 L151.55,289.14 L149.74,289.02 L147.97,288.94 L146.22,288.90 L144.51,288.89 L142.84,288.92 L141.19,288.96 L139.58,289.02 L138.00,289.09 L136.44,289.17 L134.91,289.25 L133.40,289.32 L131.91,289.39 L130.43,289.46 L128.96,289.51 L127.49,289.55 L126.02,289.59 L124.54,289.61 L123.05,289.62 L121.55,289.62 L120.03,289.62 L118.48,289.62 L116.91,289.62 L115.31,289.63 L113.67,289.65 L112.00,289.68 L110.30,289.73 L108.56,289.82 L106.78,289.93 L104.97,290.09 L103.12,290.29 L101.23,290.54 L99.32,290.84 L97.38,291.21 L95.41,291.65 L93.41,292.16 L91.40,292.75 L89.38,293.42 L87.35,294.17 L85.31,295.01 L83.27,295.94 L81.24,296.97 L79.23,298.09 L77.23,299.31 L75.25,300.63 L73.29,302.04 L71.37,303.55 L69.48,305.16 L67.63,306.86 L65.81,308.65 L64.02,310.54 L62.24,312.51 L60.46,314.56 L58.57,316.67 L55.72,318.72Z" fill="#bf97b8"/>
<path d="M64.89,301.76 L66.32,300.03 L67.81,298.37 L69.36,296.77 L70.95,295.25 L72.59,293.80 L74.27,292.41 L75.99,291.10 L77.74,289.86 L79.51,288.69 L81.31,287.59 L83.13,286.56 L84.97,285.60 L86.81,284.70 L88.66,283.87 L90.52,283.10 L92.38,282.39 L94.24,281.73 L96.09,281.12 L97.94,280.57 L99.78,280.06 L101.61,279.60 L103.42,279.17 L105.23,278.78 L107.03,278.43 L108.81,278.10 L110.58,277.81 L112.34,277.53 L114.09,277.28 L115.82,277.04 L117.55,276.82 L119.28,276.61 L121.00,276.42 L122.72,276.24 L124.44,276.06 L126.16,275.90 L127.88,275.74 L129.62,275.60 L131.36,275.46 L133.12,275.33 L134.89,275.22 L136.67,275.12 L138.48,275.04 L140.30,274.98 L142.15,274.94 L144.02,274.93 L145.91,274.94 L147.83,274.99 L149.77,275.08 L151.73,275.20 L153.71,275.37 L155.72,275.59 L157.74,275.86 L159.78,276.19 L161.84,276.58 L163.91,277.04 L165.98,277.56 L168.07,278.15 L170.15,278.81 L172.23,279.55 L174.31,280.37 L176.37,281.28 L178.42,282.26 L180.45,283.32 L182.45,284.47 L184.42,285.71 L186.36,287.03 L188.25,288.43 L190.10,289.92 L191.91,291.49 L193.65,293.14 L195.34,294.88 L196.96,296.68 L198.52,298.57 L200.00,300.52 L201.40,302.55 L202.72,304.64 L203.96,306.79 L205.11,309.00 L206.17,311.27 L207.13,313.59 L208.00,315.95 L208.76,318.35 L209.42,320.79 L209.97,323.26 L210.41,325.76 L210.75,328.28 L210.97,330.81 L211.07,333.36 L211.06,335.90 L210.94,338.45 L210.70,340.98 L210.34,343.51 L209.87,346.01 L209.28,348.49 L208.57,350.93 L207.75,353.34 L206.82,355.70 L205.77,358.01 L204.62,360.27 L203.37,362.46 L202.01,364.58 L200.55,366.63 L199.00,368.60 L197.36,370.49 L195.64,372.30 L193.83,374.01 L191.96,375.63 L190.02,377.15 L188.01,378.57 L185.96,379.89 L183.85,381.11 L181.71,382.22 L179.53,383.23 L177.33,384.15 L175.10,384.96 L172.87,385.67 L170.62,386.28 L168.38,386.81 L166.15,387.24 L163.92,387.59 L163.92,387.59 L165.52,386.30 L167.45,385.50 L169.44,384.72 L171.44,383.91 L173.45,383.04 L175.45,382.11 L177.44,381.10 L179.40,380.01 L181.34,378.84 L183.24,377.59 L185.09,376.25 L186.90,374.82 L188.64,373.31 L190.33,371.72 L191.94,370.04 L193.48,368.29 L194.94,366.46 L196.31,364.56 L197.60,362.59 L198.79,360.56 L199.89,358.47 L200.89,356.33 L201.78,354.14 L202.58,351.91 L203.26,349.65 L203.84,347.35 L204.31,345.02 L204.68,342.68 L204.93,340.32 L205.07,337.96 L205.11,335.59 L205.04,333.23 L204.86,330.87 L204.58,328.53 L204.19,326.21 L203.71,323.91 L203.12,321.64 L202.44,319.41 L201.66,317.21 L200.79,315.05 L199.82,312.94 L198.78,310.89 L197.65,308.88 L196.44,306.94 L195.16,305.06 L193.80,303.24 L192.38,301.49 L190.89,299.81 L189.34,298.20 L187.74,296.66 L186.09,295.20 L184.39,293.82 L182.64,292.52 L180.86,291.30 L179.05,290.16 L177.21,289.09 L175.35,288.11 L173.47,287.20 L171.57,286.37 L169.67,285.62 L167.76,284.94 L165.85,284.33 L163.94,283.79 L162.04,283.32 L160.15,282.91 L158.27,282.55 L156.41,282.26 L154.57,282.02 L152.74,281.82 L150.94,281.67 L149.16,281.56 L147.41,281.48 L145.68,281.44 L143.97,281.42 L142.29,281.43 L140.63,281.46 L139.00,281.50 L137.38,281.56 L135.78,281.63 L134.20,281.70 L132.64,281.78 L131.09,281.86 L129.54,281.95 L128.00,282.04 L126.47,282.13 L124.94,282.21 L123.40,282.30 L121.86,282.39 L120.31,282.49 L118.75,282.58 L117.18,282.69 L115.60,282.80 L113.99,282.92 L112.37,283.06 L110.73,283.22 L109.07,283.39 L107.39,283.59 L105.68,283.82 L103.96,284.08 L102.21,284.37 L100.45,284.70 L98.66,285.08 L96.86,285.50 L95.04,285.97 L93.21,286.49 L91.37,287.07 L89.51,287.71 L87.65,288.41 L85.79,289.18 L83.93,290.01 L82.07,290.91 L80.21,291.88 L78.36,292.92 L76.52,294.03 L74.69,295.20 L72.87,296.45 L71.05,297.76 L69.22,299.13 L67.33,300.54 L64.89,301.76Z" fill="#b388aa"/>
<path d="M94.86,282.94 L96.27,282.48 L97.67,282.05 L99.07,281.65 L100.47,281.28 L101.85,280.93 L103.24,280.61 L104.61,280.31 L105.98,280.03 L107.34,279.76 L108.69,279.52 L110.03,279.29 L111.37,279.08 L112.70,278.88 L114.02,278.69 L115.34,278.51 L116.65,278.34 L117.96,278.18 L119.26,278.02 L120.56,277.88 L121.86,277.73 L123.16,277.60 L124.45,277.47 L125.75,277.34 L127.06,277.22 L128.36,277.10 L129.67,276.99 L130.99,276.88 L132.31,276.78 L133.64,276.69 L134.98,276.60 L136.33,276.52 L137.70,276.45 L139.07,276.39 L140.46,276.34 L141.86,276.30 L143.27,276.28 L144.70,276.28 L146.14,276.29 L147.60,276.33 L149.07,276.38 L150.55,276.46 L152.05,276.56 L153.56,276.69 L155.09,276.85 L156.62,277.04 L158.17,277.27 L159.73,277.52 L161.29,277.82 L162.87,278.15 L164.45,278.52 L166.03,278.93 L167.62,279.39 L169.20,279.89 L170.79,280.43 L172.37,281.02 L173.95,281.66 L175.53,282.35 L177.09,283.08 L178.64,283.86 L180.18,284.70 L181.70,285.58 L183.21,286.52 L184.69,287.50 L186.15,288.53 L187.59,289.62 L189.00,290.75 L190.38,291.94 L191.73,293.17 L193.04,294.45 L194.32,295.77 L195.56,297.15 L196.76,298.56 L197.92,300.02 L199.03,301.53 L200.10,303.07 L201.12,304.65 L202.09,306.27 L203.01,307.93 L203.88,309.62 L204.69,311.34 L205.44,313.10 L206.14,314.88 L206.78,316.68 L207.36,318.52 L207.87,320.37 L208.33,322.24 L208.72,324.13 L209.04,326.04 L209.30,327.95 L209.50,329.88 L209.62,331.81 L209.68,333.75 L209.67,335.69 L209.59,337.63 L209.44,339.56 L209.23,341.49 L208.94,343.41 L208.58,345.32 L208.16,347.21 L207.66,349.08 L207.10,350.94 L206.47,352.77 L205.78,354.57 L205.02,356.35 L204.19,358.09 L203.30,359.80 L202.34,361.47 L201.33,363.10 L200.26,364.69 L199.13,366.24 L197.94,367.74 L196.70,369.19 L195.41,370.58 L194.07,371.93 L192.69,373.22 L191.26,374.46 L189.79,375.63 L188.29,376.75 L186.75,377.81 L185.18,378.81 L185.18,378.81 L186.42,377.55 L187.81,376.39 L189.20,375.21 L190.57,373.98 L191.90,372.71 L193.20,371.39 L194.45,370.02 L195.66,368.61 L196.83,367.15 L197.94,365.65 L199.00,364.11 L200.00,362.53 L200.95,360.91 L201.84,359.25 L202.67,357.56 L203.44,355.84 L204.14,354.09 L204.78,352.31 L205.36,350.51 L205.87,348.69 L206.31,346.85 L206.69,344.99 L207.00,343.13 L207.25,341.25 L207.42,339.36 L207.53,337.47 L207.58,335.58 L207.55,333.69 L207.46,331.81 L207.31,329.93 L207.09,328.05 L206.81,326.19 L206.46,324.34 L206.05,322.51 L205.58,320.70 L205.05,318.90 L204.46,317.13 L203.81,315.38 L203.11,313.66 L202.35,311.97 L201.54,310.31 L200.67,308.68 L199.76,307.08 L198.79,305.52 L197.78,304.00 L196.73,302.52 L195.63,301.08 L194.48,299.68 L193.30,298.32 L192.08,297.00 L190.82,295.74 L189.54,294.51 L188.21,293.34 L186.86,292.21 L185.48,291.13 L184.08,290.10 L182.66,289.11 L181.21,288.18 L179.74,287.29 L178.26,286.45 L176.77,285.67 L175.26,284.93 L173.74,284.23 L172.22,283.59 L170.69,282.99 L169.16,282.43 L167.62,281.92 L166.09,281.46 L164.55,281.03 L163.03,280.65 L161.50,280.30 L159.99,279.99 L158.48,279.72 L156.98,279.48 L155.49,279.27 L154.02,279.10 L152.55,278.95 L151.10,278.83 L149.66,278.73 L148.24,278.65 L146.83,278.60 L145.43,278.57 L144.05,278.55 L142.69,278.55 L141.33,278.56 L139.99,278.58 L138.66,278.62 L137.35,278.66 L136.04,278.71 L134.75,278.77 L133.46,278.84 L132.18,278.90 L130.91,278.98 L129.64,279.05 L128.38,279.13 L127.13,279.21 L125.87,279.29 L124.61,279.38 L123.36,279.47 L122.10,279.56 L120.84,279.65 L119.57,279.75 L118.30,279.85 L117.02,279.95 L115.74,280.07 L114.45,280.19 L113.14,280.31 L111.83,280.45 L110.50,280.59 L109.17,280.75 L107.82,280.92 L106.46,281.11 L105.09,281.31 L103.70,281.53 L102.30,281.76 L100.88,282.01 L99.44,282.28 L97.99,282.55 L96.50,282.83 L94.86,282.94Z" fill="#a67899"/>
<path d="M58.67,306.05 L59.99,304.00 L61.38,302.02 L62.85,300.10 L64.38,298.26 L65.98,296.49 L67.64,294.79 L69.35,293.18 L71.12,291.63 L72.92,290.17 L74.76,288.78 L76.64,287.48 L78.54,286.24 L80.47,285.09 L82.42,284.01 L84.39,283.00 L86.36,282.06 L88.35,281.19 L90.34,280.38 L92.32,279.64 L94.31,278.96 L96.29,278.33 L98.27,277.76 L100.23,277.24 L102.19,276.76 L104.13,276.32 L106.07,275.92 L107.99,275.55 L109.90,275.22 L111.79,274.91 L113.68,274.63 L115.56,274.37 L117.43,274.12 L119.29,273.90 L121.16,273.69 L123.02,273.49 L124.88,273.31 L126.74,273.14 L128.61,272.98 L130.50,272.83 L132.39,272.70 L134.30,272.58 L136.22,272.48 L138.16,272.40 L140.12,272.35 L142.11,272.32 L144.11,272.31 L146.14,272.34 L148.20,272.41 L150.28,272.52 L152.38,272.67 L154.51,272.87 L156.65,273.13 L158.82,273.44 L161.01,273.82 L163.20,274.26 L165.41,274.77 L167.63,275.36 L169.85,276.03 L172.07,276.78 L174.29,277.61 L176.50,278.53 L178.69,279.53 L180.86,280.63 L183.01,281.82 L185.12,283.09 L187.20,284.47 L189.24,285.93 L191.24,287.48 L193.17,289.13 L195.06,290.86 L196.87,292.69 L198.62,294.59 L200.30,296.58 L201.90,298.65 L203.41,300.80 L204.84,303.01 L206.17,305.30 L207.41,307.65 L208.55,310.06 L209.59,312.53 L210.51,315.04 L211.33,317.60 L212.04,320.21 L212.63,322.84 L213.10,325.51 L213.45,328.19 L213.67,330.90 L213.78,333.61 L213.75,336.33 L213.60,339.04 L213.33,341.75 L212.92,344.43 L212.39,347.10 L211.73,349.73 L210.95,352.33 L210.04,354.89 L209.01,357.39 L207.86,359.84 L206.60,362.22 L205.22,364.53 L203.73,366.77 L202.14,368.92 L200.44,370.99 L198.66,372.97 L196.78,374.84 L194.82,376.62 L192.79,378.30 L190.68,379.86 L188.52,381.32 L186.30,382.66 L184.03,383.90 L181.73,385.02 L179.39,386.04 L177.03,386.94 L174.66,387.74 L172.27,388.43 L169.89,389.02 L167.51,389.51 L165.14,389.92 L162.79,390.23 L162.79,390.23 L164.64,389.12 L166.87,388.55 L169.13,387.96 L171.41,387.30 L173.70,386.56 L175.98,385.73 L178.25,384.80 L180.50,383.78 L182.72,382.65 L184.90,381.42 L187.04,380.09 L189.13,378.65 L191.16,377.11 L193.12,375.46 L195.01,373.72 L196.82,371.88 L198.54,369.94 L200.17,367.92 L201.70,365.82 L203.13,363.63 L204.45,361.38 L205.67,359.05 L206.77,356.67 L207.75,354.23 L208.61,351.74 L209.35,349.21 L209.97,346.65 L210.47,344.06 L210.84,341.45 L211.09,338.82 L211.21,336.19 L211.21,333.55 L211.09,330.92 L210.85,328.30 L210.49,325.70 L210.01,323.12 L209.42,320.57 L208.71,318.05 L207.90,315.57 L206.98,313.14 L205.95,310.76 L204.83,308.44 L203.60,306.17 L202.29,303.97 L200.88,301.84 L199.40,299.78 L197.83,297.79 L196.19,295.89 L194.47,294.06 L192.70,292.32 L190.86,290.66 L188.97,289.09 L187.02,287.61 L185.04,286.22 L183.01,284.92 L180.95,283.71 L178.87,282.59 L176.76,281.56 L174.63,280.61 L172.49,279.75 L170.34,278.98 L168.19,278.28 L166.05,277.67 L163.90,277.13 L161.77,276.66 L159.65,276.26 L157.55,275.92 L155.46,275.64 L153.40,275.42 L151.36,275.24 L149.34,275.12 L147.35,275.03 L145.38,274.98 L143.43,274.97 L141.51,274.99 L139.62,275.03 L137.74,275.09 L135.89,275.17 L134.05,275.27 L132.23,275.38 L130.43,275.50 L128.63,275.63 L126.84,275.78 L125.06,275.93 L123.28,276.09 L121.50,276.26 L119.72,276.44 L117.93,276.64 L116.14,276.84 L114.33,277.07 L112.52,277.31 L110.69,277.57 L108.85,277.86 L106.99,278.17 L105.12,278.52 L103.24,278.90 L101.34,279.32 L99.42,279.79 L97.50,280.30 L95.56,280.86 L93.62,281.48 L91.67,282.15 L89.71,282.88 L87.76,283.68 L85.81,284.54 L83.86,285.48 L81.93,286.48 L80.01,287.56 L78.10,288.71 L76.23,289.94 L74.37,291.25 L72.55,292.63 L70.77,294.09 L69.02,295.62 L67.31,297.23 L65.65,298.91 L64.03,300.67 L62.44,302.48 L60.86,304.35 L58.67,306.05Z" fill="#cca4c5"/>
<path d="M127.15,383.45 L126.33,383.37 L125.52,383.30 L124.71,383.23 L123.90,383.16 L123.09,383.10 L122.28,383.04 L121.46,382.99 L120.65,382.93 L119.83,382.89 L119.00,382.84 L118.17,382.79 L117.34,382.75 L116.51,382.71 L115.66,382.67 L114.81,382.63 L113.96,382.59 L113.10,382.54 L112.23,382.50 L111.36,382.45 L110.48,382.41 L109.59,382.35 L108.69,382.30 L107.79,382.23 L106.88,382.16 L105.96,382.09 L105.04,382.01 L104.11,381.91 L103.17,381.81 L102.22,381.70 L101.27,381.58 L100.31,381.45 L99.35,381.30 L98.38,381.15 L97.40,380.97 L96.42,380.79 L95.44,380.59 L94.45,380.37 L93.46,380.14 L92.46,379.89 L91.47,379.62 L90.47,379.33 L89.47,379.02 L88.48,378.70 L87.48,378.35 L86.48,377.99 L85.49,377.60 L84.50,377.19 L83.51,376.76 L82.53,376.31 L81.56,375.84 L80.59,375.34 L79.63,374.82 L78.67,374.28 L77.73,373.72 L76.79,373.13 L75.87,372.52 L74.96,371.89 L74.06,371.23 L73.17,370.55 L72.30,369.85 L71.44,369.13 L70.60,368.39 L69.77,367.62 L68.96,366.83 L68.18,366.02 L67.40,365.19 L66.65,364.34 L65.92,363.48 L65.21,362.59 L64.53,361.68 L63.86,360.75 L63.22,359.81 L62.60,358.85 L62.00,357.87 L61.43,356.88 L60.89,355.87 L60.37,354.85 L59.87,353.82 L59.40,352.77 L58.96,351.71 L58.55,350.63 L58.16,349.55 L57.80,348.46 L57.47,347.35 L57.16,346.24 L56.89,345.12 L56.64,344.00 L56.42,342.86 L56.23,341.73 L56.07,340.59 L55.93,339.44 L55.82,338.29 L55.75,337.14 L55.70,335.99 L55.67,334.83 L55.68,333.68 L55.72,332.53 L55.78,331.38 L55.87,330.23 L55.99,329.09 L56.13,327.95 L56.30,326.81 L56.50,325.68 L56.72,324.55 L56.97,323.43 L57.25,322.32 L57.55,321.22 L57.87,320.12 L58.22,319.04 L58.60,317.96 L58.99,316.89 L59.41,315.84 L59.86,314.79 L60.32,313.76 L60.81,312.74 L61.32,311.73 L61.85,310.73 L62.40,309.75 L62.97,308.78 L63.56,307.83 L63.56,307.83 L63.19,308.86 L62.76,309.87 L62.33,310.88 L61.91,311.90 L61.50,312.93 L61.11,313.96 L60.74,315.01 L60.39,316.06 L60.05,317.12 L59.74,318.18 L59.45,319.25 L59.17,320.33 L58.92,321.42 L58.70,322.51 L58.49,323.61 L58.31,324.71 L58.16,325.81 L58.02,326.92 L57.91,328.04 L57.83,329.15 L57.77,330.27 L57.74,331.39 L57.73,332.51 L57.75,333.62 L57.79,334.74 L57.86,335.86 L57.96,336.97 L58.08,338.09 L58.23,339.19 L58.40,340.30 L58.60,341.40 L58.83,342.49 L59.08,343.58 L59.36,344.66 L59.66,345.73 L59.99,346.80 L60.35,347.85 L60.73,348.90 L61.14,349.93 L61.57,350.96 L62.03,351.97 L62.51,352.97 L63.01,353.96 L63.54,354.93 L64.09,355.89 L64.67,356.83 L65.26,357.76 L65.88,358.67 L66.52,359.56 L67.18,360.44 L67.86,361.30 L68.56,362.14 L69.28,362.97 L70.02,363.77 L70.77,364.55 L71.54,365.32 L72.33,366.06 L73.13,366.79 L73.95,367.49 L74.78,368.18 L75.63,368.84 L76.49,369.48 L77.36,370.10 L78.24,370.70 L79.13,371.27 L80.03,371.83 L80.93,372.36 L81.85,372.88 L82.77,373.37 L83.70,373.84 L84.63,374.29 L85.57,374.72 L86.51,375.13 L87.45,375.52 L88.40,375.89 L89.35,376.25 L90.30,376.58 L91.24,376.90 L92.19,377.20 L93.14,377.48 L94.08,377.75 L95.02,378.00 L95.96,378.23 L96.90,378.45 L97.83,378.66 L98.76,378.86 L99.68,379.04 L100.60,379.21 L101.51,379.37 L102.41,379.52 L103.31,379.67 L104.20,379.80 L105.09,379.93 L105.97,380.05 L106.84,380.16 L107.71,380.27 L108.57,380.37 L109.42,380.47 L110.27,380.57 L111.11,380.67 L111.94,380.77 L112.77,380.86 L113.59,380.96 L114.41,381.05 L115.22,381.15 L116.03,381.25 L116.83,381.36 L117.63,381.47 L118.43,381.58 L119.23,381.70 L120.02,381.82 L120.81,381.95 L121.60,382.09 L122.38,382.23 L123.17,382.38 L123.96,382.55 L124.76,382.73 L125.55,382.92 L126.35,383.14 L127.15,383.45Z" fill="#dcc6dc"/>
<path d="M50.26,331.64 L50.42,329.58 L50.65,327.53 L50.97,325.50 L51.36,323.48 L51.83,321.48 L52.37,319.50 L52.98,317.55 L53.66,315.63 L54.41,313.74 L55.22,311.88 L56.10,310.06 L57.04,308.27 L58.04,306.52 L59.10,304.82 L60.21,303.16 L61.37,301.54 L62.58,299.97 L63.83,298.45 L65.13,296.98 L66.47,295.56 L67.85,294.19 L69.26,292.87 L70.71,291.60 L72.18,290.39 L73.68,289.22 L75.21,288.11 L76.75,287.05 L78.32,286.04 L79.90,285.09 L81.50,284.18 L83.11,283.32 L84.72,282.51 L86.35,281.75 L87.98,281.03 L89.61,280.36 L91.24,279.73 L92.88,279.14 L94.51,278.59 L96.14,278.08 L97.76,277.60 L99.38,277.16 L100.99,276.75 L102.59,276.36 L104.19,276.01 L105.78,275.68 L107.36,275.37 L108.93,275.08 L110.49,274.82 L112.05,274.57 L113.60,274.34 L115.15,274.12 L116.69,273.92 L118.22,273.72 L119.76,273.54 L121.29,273.37 L122.82,273.21 L124.35,273.06 L125.88,272.91 L127.41,272.78 L128.96,272.65 L130.50,272.53 L132.06,272.42 L133.62,272.33 L135.20,272.24 L136.79,272.16 L138.38,272.10 L140.00,272.06 L141.63,272.03 L143.27,272.02 L144.93,272.03 L146.60,272.06 L148.29,272.12 L150.00,272.21 L151.72,272.33 L153.46,272.48 L155.21,272.66 L156.98,272.88 L158.76,273.14 L160.55,273.44 L162.35,273.79 L164.16,274.18 L165.98,274.62 L167.80,275.12 L169.63,275.66 L171.45,276.26 L173.27,276.91 L175.09,277.62 L176.90,278.39 L178.70,279.22 L180.48,280.11 L182.25,281.06 L184.00,282.07 L185.73,283.14 L187.44,284.28 L189.11,285.47 L190.76,286.73 L192.37,288.05 L193.95,289.43 L195.48,290.87 L196.97,292.37 L198.42,293.92 L199.81,295.53 L201.16,297.20 L202.45,298.91 L203.69,300.68 L204.87,302.50 L205.98,304.36 L207.03,306.27 L208.02,308.22 L208.94,310.20 L209.79,312.23 L210.57,314.29 L211.27,316.38 L211.90,318.50 L212.45,320.64 L212.92,322.81 L213.32,325.00 L213.63,327.20 L213.86,329.41 L214.01,331.64 L214.08,333.86 L214.06,336.10 L213.96,338.32 L213.77,340.55 L213.49,342.76 L213.13,344.97 L212.69,347.15 L212.16,349.32 L211.54,351.46 L210.84,353.58 L210.06,355.66 L209.20,357.71 L208.26,359.72 L207.24,361.68 L206.14,363.61 L204.97,365.48 L203.72,367.30 L202.41,369.06 L201.02,370.76 L199.58,372.41 L198.07,373.99 L196.51,375.50 L194.89,376.95 L193.22,378.32 L191.50,379.63 L189.74,380.86 L187.94,382.02 L186.11,383.10 L184.25,384.11 L182.36,385.04 L180.45,385.90 L178.52,386.68 L176.58,387.40 L174.63,388.04 L172.67,388.61 L170.71,389.11 L168.76,389.55 L166.81,389.92 L164.87,390.24 L162.94,390.49 L161.02,390.70 L159.13,390.85 L157.25,390.96 L155.39,391.02 L153.56,391.04 L151.75,391.03 L149.97,390.98 L148.22,390.91 L146.49,390.82 L144.78,390.70 L143.10,390.57 L141.45,390.43 L139.82,390.27 L138.22,390.11 L136.63,389.94 L135.07,389.78 L133.52,389.61 L131.99,389.45 L130.47,389.29 L128.96,389.14 L127.45,389.00 L125.96,388.86 L124.46,388.73 L122.97,388.61 L121.47,388.49 L119.97,388.38 L118.46,388.27 L116.94,388.17 L115.41,388.07 L113.86,387.96 L112.30,387.86 L110.73,387.74 L109.13,387.62 L107.52,387.48 L105.89,387.33 L104.24,387.16 L102.57,386.96 L100.88,386.74 L99.18,386.48 L97.45,386.20 L95.72,385.87 L93.97,385.51 L92.21,385.10 L90.45,384.64 L88.67,384.13 L86.90,383.57 L85.13,382.95 L83.36,382.28 L81.59,381.54 L79.84,380.75 L78.11,379.89 L76.39,378.96 L74.70,377.97 L73.04,376.92 L71.40,375.80 L69.80,374.61 L68.25,373.36 L66.73,372.04 L65.26,370.67 L63.85,369.23 L62.49,367.73 L61.18,366.17 L59.94,364.55 L58.76,362.89 L57.65,361.17 L56.61,359.41 L55.64,357.60 L54.75,355.75 L53.93,353.86 L53.19,351.94 L52.53,349.98 L51.95,348.00 L51.45,346.00 L51.03,343.98 L50.70,341.94 L50.45,339.89 L50.28,337.83 L50.19,335.76 L50.19,333.70Z" fill="none" stroke="#5a4a5a" stroke-width="0.6"/>
<ellipse cx="53.8" cy="357.4" rx="8.2" ry="5.8" fill="#fff"/><circle cx="48.7" cy="348.6" r="2.7" fill="#fff"/><circle cx="59.4" cy="366.2" r="2.7" fill="#fff"/>
<polygon points="82.70,363.00 83.05,363.80 83.40,364.44 83.75,365.02 84.10,365.56 84.45,366.07 84.79,366.55 85.14,366.99 85.49,367.40 85.84,367.78 86.19,368.13 86.54,368.44 86.89,368.72 87.24,368.96 87.59,369.16 87.94,369.32 88.29,369.45 88.63,369.54 88.98,369.59 89.33,369.60 89.68,369.57 90.03,369.50 90.38,369.39 90.73,369.25 91.08,369.06 91.43,368.84 91.78,368.58 92.12,368.29 92.47,367.96 92.82,367.60 93.17,367.20 93.52,366.77 93.87,366.31 94.22,365.82 94.57,365.30 94.92,364.74 95.27,364.13 95.62,363.44 95.96,362.56 96.31,361.87 96.66,361.26 97.01,360.70 97.36,360.18 97.71,359.69 98.06,359.23 98.41,358.80 98.76,358.40 99.11,358.04 99.46,357.71 99.80,357.42 100.15,357.16 100.50,356.94 100.85,356.75 101.20,356.61 101.55,356.50 101.90,356.43 102.25,356.40 102.60,356.41 102.95,356.46 103.29,356.55 103.64,356.68 103.99,356.84 104.34,357.04 104.69,357.28 105.04,357.56 105.39,357.87 105.74,358.22 106.09,358.60 106.44,359.01 106.79,359.45 107.13,359.93 107.48,360.44 107.83,360.98 108.18,361.56 108.53,362.20 108.88,363.00 109.23,363.80 109.58,364.44 109.93,365.02 110.28,365.56 110.63,366.07 110.97,366.55 111.32,366.99 111.67,367.40 112.02,367.78 112.37,368.13 112.72,368.44 113.07,368.72 113.42,368.96 113.77,369.16 114.12,369.32 114.47,369.45 114.81,369.54 115.16,369.59 115.51,369.60 115.86,369.57 116.21,369.50 116.56,369.39 116.91,369.25 117.26,369.06 117.61,368.84 117.96,368.58 118.30,368.29 118.65,367.96 119.00,367.60 119.35,367.20 119.70,366.77 120.05,366.31 120.40,365.82 120.75,365.30 121.10,364.74 121.45,364.13 121.80,363.44 122.14,362.56 122.49,361.87 122.84,361.26 123.19,360.70 123.54,360.18 123.89,359.69 124.24,359.23 124.59,358.80 124.94,358.40 125.29,358.04 125.64,357.71 125.98,357.42 126.33,357.16 126.68,356.94 127.03,356.75 127.38,356.61 127.73,356.50 128.08,356.43 128.43,356.40 128.78,356.41 129.13,356.46 129.47,356.55 129.82,356.68 130.17,356.84 130.52,357.04 130.87,357.28 131.22,357.56 131.57,357.87 131.92,358.22 132.27,358.60 132.62,359.01 132.97,359.45 133.31,359.93 133.66,360.44 134.01,360.98 134.36,361.56 134.71,362.20 135.06,363.00 135.41,363.80 135.76,364.44 136.11,365.02 136.46,365.56 136.81,366.07 137.15,366.55 137.50,366.99 137.85,367.40 138.20,367.78 138.55,368.13 138.90,368.44 139.25,368.72 139.60,368.96 139.95,369.16 140.30,369.32 140.65,369.45 140.99,369.54 141.34,369.59 141.69,369.60 142.04,369.57 142.39,369.50 142.74,369.39 143.09,369.25 143.44,369.06 143.79,368.84 144.14,368.58 144.48,368.29 144.83,367.96 145.18,367.60 145.53,367.20 145.88,366.77 146.23,366.31 146.58,365.82 146.93,365.30 147.28,364.74 147.63,364.13 147.98,363.44 148.32,362.56 148.67,361.87 149.02,361.26 149.37,360.70 149.72,360.18 150.07,359.69 150.42,359.23 150.77,358.80 151.12,358.40 151.47,358.04 151.82,357.71 152.16,357.42 152.51,357.16 152.86,356.94 153.21,356.75 153.56,356.61 153.91,356.50 154.26,356.43 154.61,356.40 154.96,356.41 155.31,356.46 155.65,356.55 156.00,356.68 156.35,356.84 156.70,357.04 157.05,357.28 157.40,357.56 157.75,357.87 158.10,358.22 158.45,358.60 158.80,359.01 159.15,359.45 159.49,359.93 159.84,360.44 160.19,360.98 160.54,361.56 160.89,362.20 161.24,363.00 161.59,363.80 161.94,364.44 162.29,365.02 162.64,365.56 162.99,366.07 163.33,366.55 163.68,366.99 164.03,367.40 164.38,367.78 164.73,368.13 165.08,368.44 165.43,368.72 165.78,368.96 166.13,369.16 166.48,369.32 166.83,369.45 167.17,369.54 167.52,369.59 167.87,369.60 168.22,369.57 168.57,369.50 168.92,369.39 169.27,369.25 169.62,369.06 169.97,368.84 170.32,368.58 170.66,368.29 171.01,367.96 171.36,367.60 171.71,367.20 172.06,366.77 172.41,366.31 172.76,365.82 173.11,365.30 173.46,364.74 173.81,364.13 174.16,363.44 174.50,362.56 174.85,361.87 175.20,361.26 175.55,360.70 175.90,360.18 176.25,359.69 176.60,359.23 176.95,358.80 177.30,358.40 177.65,358.04 178.00,357.71 178.34,357.42 178.69,357.16 179.04,356.94 179.39,356.75 179.74,356.61 180.09,356.50 180.44,356.43 180.79,356.40 181.14,356.41 181.49,356.46 181.83,356.55 182.18,356.68 182.53,356.84 182.88,357.04 183.23,357.28 183.58,357.56 183.93,357.87 184.28,358.22 184.63,358.60 184.98,359.01 185.33,359.45 185.67,359.93 186.02,360.44 186.37,360.98 186.72,361.56 187.07,362.20 187.42,363.00 187.42,363.00 187.07,363.80 186.72,364.44 186.37,365.02 186.02,365.56 185.67,366.07 185.33,366.55 184.98,366.99 184.63,367.40 184.28,367.78 183.93,368.13 183.58,368.44 183.23,368.72 182.88,368.96 182.53,369.16 182.18,369.32 181.83,369.45 181.49,369.54 181.14,369.59 180.79,369.60 180.44,369.57 180.09,369.50 179.74,369.39 179.39,369.25 179.04,369.06 178.69,368.84 178.34,368.58 178.00,368.29 177.65,367.96 177.30,367.60 176.95,367.20 176.60,366.77 176.25,366.31 175.90,365.82 175.55,365.30 175.20,364.74 174.85,364.13 174.50,363.44 174.16,362.56 173.81,361.87 173.46,361.26 173.11,360.70 172.76,360.18 172.41,359.69 172.06,359.23 171.71,358.80 171.36,358.40 171.01,358.04 170.66,357.71 170.32,357.42 169.97,357.16 169.62,356.94 169.27,356.75 168.92,356.61 168.57,356.50 168.22,356.43 167.87,356.40 167.52,356.41 167.17,356.46 166.83,356.55 166.48,356.68 166.13,356.84 165.78,357.04 165.43,357.28 165.08,357.56 164.73,357.87 164.38,358.22 164.03,358.60 163.68,359.01 163.33,359.45 162.99,359.93 162.64,360.44 162.29,360.98 161.94,361.56 161.59,362.20 161.24,363.00 160.89,363.80 160.54,364.44 160.19,365.02 159.84,365.56 159.49,366.07 159.15,366.55 158.80,366.99 158.45,367.40 158.10,367.78 157.75,368.13 157.40,368.44 157.05,368.72 156.70,368.96 156.35,369.16 156.00,369.32 155.65,369.45 155.31,369.54 154.96,369.59 154.61,369.60 154.26,369.57 153.91,369.50 153.56,369.39 153.21,369.25 152.86,369.06 152.51,368.84 152.16,368.58 151.82,368.29 151.47,367.96 151.12,367.60 150.77,367.20 150.42,366.77 150.07,366.31 149.72,365.82 149.37,365.30 149.02,364.74 148.67,364.13 148.32,363.44 147.98,362.56 147.63,361.87 147.28,361.26 146.93,360.70 146.58,360.18 146.23,359.69 145.88,359.23 145.53,358.80 145.18,358.40 144.83,358.04 144.48,357.71 144.14,357.42 143.79,357.16 143.44,356.94 143.09,356.75 142.74,356.61 142.39,356.50 142.04,356.43 141.69,356.40 141.34,356.41 140.99,356.46 140.65,356.55 140.30,356.68 139.95,356.84 139.60,357.04 139.25,357.28 138.90,357.56 138.55,357.87 138.20,358.22 137.85,358.60 137.50,359.01 137.15,359.45 136.81,359.93 136.46,360.44 136.11,360.98 135.76,361.56 135.41,362.20 135.06,363.00 134.71,363.80 134.36,364.44 134.01,365.02 133.66,365.56 133.31,366.07 132.97,366.55 132.62,366.99 132.27,367.40 131.92,367.78 131.57,368.13 131.22,368.44 130.87,368.72 130.52,368.96 130.17,369.16 129.82,369.32 129.47,369.45 129.13,369.54 128.78,369.59 128.43,369.60 128.08,369.57 127.73,369.50 127.38,369.39 127.03,369.25 126.68,369.06 126.33,368.84 125.98,368.58 125.64,368.29 125.29,367.96 124.94,367.60 124.59,367.20 124.24,366.77 123.89,366.31 123.54,365.82 123.19,365.30 122.84,364.74 122.49,364.13 122.14,363.44 121.80,362.56 121.45,361.87 121.10,361.26 120.75,360.70 120.40,360.18 120.05,359.69 119.70,359.23 119.35,358.80 119.00,358.40 118.65,358.04 118.30,357.71 117.96,357.42 117.61,357.16 117.26,356.94 116.91,356.75 116.56,356.61 116.21,356.50 115.86,356.43 115.51,356.40 115.16,356.41 114.81,356.46 114.47,356.55 114.12,356.68 113.77,356.84 113.42,357.04 113.07,357.28 112.72,357.56 112.37,357.87 112.02,358.22 111.67,358.60 111.32,359.01 110.97,359.45 110.63,359.93 110.28,360.44 109.93,360.98 109.58,361.56 109.23,362.20 108.88,363.00 108.53,363.80 108.18,364.44 107.83,365.02 107.48,365.56 107.13,366.07 106.79,366.55 106.44,366.99 106.09,367.40 105.74,367.78 105.39,368.13 105.04,368.44 104.69,368.72 104.34,368.96 103.99,369.16 103.64,369.32 103.29,369.45 102.95,369.54 102.60,369.59 102.25,369.60 101.90,369.57 101.55,369.50 101.20,369.39 100.85,369.25 100.50,369.06 100.15,368.84 99.80,368.58 99.46,368.29 99.11,367.96 98.76,367.60 98.41,367.20 98.06,366.77 97.71,366.31 97.36,365.82 97.01,365.30 96.66,364.74 96.31,364.13 95.96,363.44 95.62,362.56 95.27,361.87 94.92,361.26 94.57,360.70 94.22,360.18 93.87,359.69 93.52,359.23 93.17,358.80 92.82,358.40 92.47,358.04 92.12,357.71 91.78,357.42 91.43,357.16 91.08,356.94 90.73,356.75 90.38,356.61 90.03,356.50 89.68,356.43 89.33,356.40 88.98,356.41 88.63,356.46 88.29,356.55 87.94,356.68 87.59,356.84 87.24,357.04 86.89,357.28 86.54,357.56 86.19,357.87 85.84,358.22 85.49,358.60 85.14,359.01 84.79,359.45 84.45,359.93 84.10,360.44 83.75,360.98 83.40,361.56 83.05,362.20 82.70,363.00" fill="#54445c"/>
<line x1="86.05" y1="359.31" x2="86.05" y2="362.50" stroke="#e8e632" stroke-width="1.5"/>
<line x1="86.05" y1="363.50" x2="86.05" y2="366.69" stroke="#f0a030" stroke-width="1.5"/>
<line x1="89.25" y1="357.70" x2="89.25" y2="362.50" stroke="#e84a9c" stroke-width="1.5"/>
<line x1="89.25" y1="363.50" x2="89.25" y2="368.30" stroke="#e42828" stroke-width="1.5"/>
<line x1="92.45" y1="359.31" x2="92.45" y2="362.50" stroke="#dcdc38" stroke-width="1.5"/>
<line x1="92.45" y1="363.50" x2="92.45" y2="366.69" stroke="#c8d838" stroke-width="1.5"/>
<line x1="99.14" y1="359.31" x2="99.14" y2="362.50" stroke="#e84a9c" stroke-width="1.5"/>
<line x1="99.14" y1="363.50" x2="99.14" y2="366.69" stroke="#e42828" stroke-width="1.5"/>
<line x1="102.34" y1="357.70" x2="102.34" y2="362.50" stroke="#ecea3a" stroke-width="1.5"/>
<line x1="102.34" y1="363.50" x2="102.34" y2="368.30" stroke="#f0a030" stroke-width="1.5"/>
<line x1="105.54" y1="359.31" x2="105.54" y2="362.50" stroke="#dede3a" stroke-width="1.5"/>
<line x1="105.54" y1="363.50" x2="105.54" y2="366.69" stroke="#c8d838" stroke-width="1.5"/>
<line x1="112.22" y1="359.31" x2="112.22" y2="362.50" stroke="#ecea3a" stroke-width="1.5"/>
<line x1="112.22" y1="363.50" x2="112.22" y2="366.69" stroke="#e42828" stroke-width="1.5"/>
<line x1="115.42" y1="357.70" x2="115.42" y2="362.50" stroke="#e8e632" stroke-width="1.5"/>
<line x1="115.42" y1="363.50" x2="115.42" y2="368.30" stroke="#f0a030" stroke-width="1.5"/>
<line x1="118.62" y1="359.31" x2="118.62" y2="362.50" stroke="#e84a9c" stroke-width="1.5"/>
<line x1="118.62" y1="363.50" x2="118.62" y2="366.69" stroke="#e42828" stroke-width="1.5"/>
<line x1="125.31" y1="359.31" x2="125.31" y2="362.50" stroke="#dcdc38" stroke-width="1.5"/>
<line x1="125.31" y1="363.50" x2="125.31" y2="366.69" stroke="#c8d838" stroke-width="1.5"/>
<line x1="128.51" y1="357.70" x2="128.51" y2="362.50" stroke="#e84a9c" stroke-width="1.5"/>
<line x1="128.51" y1="363.50" x2="128.51" y2="368.30" stroke="#e42828" stroke-width="1.5"/>
<line x1="131.71" y1="359.31" x2="131.71" y2="362.50" stroke="#ecea3a" stroke-width="1.5"/>
<line x1="131.71" y1="363.50" x2="131.71" y2="366.69" stroke="#f0a030" stroke-width="1.5"/>
<line x1="138.41" y1="359.31" x2="138.41" y2="362.50" stroke="#dede3a" stroke-width="1.5"/>
<line x1="138.41" y1="363.50" x2="138.41" y2="366.69" stroke="#c8d838" stroke-width="1.5"/>
<line x1="141.60" y1="357.70" x2="141.60" y2="362.50" stroke="#ecea3a" stroke-width="1.5"/>
<line x1="141.60" y1="363.50" x2="141.60" y2="368.30" stroke="#e42828" stroke-width="1.5"/>
<line x1="144.80" y1="359.31" x2="144.80" y2="362.50" stroke="#e8e632" stroke-width="1.5"/>
<line x1="144.80" y1="363.50" x2="144.80" y2="366.69" stroke="#f0a030" stroke-width="1.5"/>
<line x1="151.50" y1="359.31" x2="151.50" y2="362.50" stroke="#e84a9c" stroke-width="1.5"/>
<line x1="151.50" y1="363.50" x2="151.50" y2="366.69" stroke="#e42828" stroke-width="1.5"/>
<line x1="154.69" y1="357.70" x2="154.69" y2="362.50" stroke="#dcdc38" stroke-width="1.5"/>
<line x1="154.69" y1="363.50" x2="154.69" y2="368.30" stroke="#c8d838" stroke-width="1.5"/>
<line x1="157.89" y1="359.31" x2="157.89" y2="362.50" stroke="#e84a9c" stroke-width="1.5"/>
<line x1="157.89" y1="363.50" x2="157.89" y2="366.69" stroke="#e42828" stroke-width="1.5"/>
<line x1="164.59" y1="359.31" x2="164.59" y2="362.50" stroke="#ecea3a" stroke-width="1.5"/>
<line x1="164.59" y1="363.50" x2="164.59" y2="366.69" stroke="#f0a030" stroke-width="1.5"/>
<line x1="167.78" y1="357.70" x2="167.78" y2="362.50" stroke="#dede3a" stroke-width="1.5"/>
<line x1="167.78" y1="363.50" x2="167.78" y2="368.30" stroke="#c8d838" stroke-width="1.5"/>
<line x1="170.98" y1="359.31" x2="170.98" y2="362.50" stroke="#ecea3a" stroke-width="1.5"/>
<line x1="170.98" y1="363.50" x2="170.98" y2="366.69" stroke="#e42828" stroke-width="1.5"/>
<line x1="177.67" y1="359.31" x2="177.67" y2="362.50" stroke="#e8e632" stroke-width="1.5"/>
<line x1="177.67" y1="363.50" x2="177.67" y2="366.69" stroke="#f0a030" stroke-width="1.5"/>
<line x1="180.87" y1="357.70" x2="180.87" y2="362.50" stroke="#e84a9c" stroke-width="1.5"/>
<line x1="180.87" y1="363.50" x2="180.87" y2="368.30" stroke="#e42828" stroke-width="1.5"/>
<line x1="184.07" y1="359.31" x2="184.07" y2="362.50" stroke="#dcdc38" stroke-width="1.5"/>
<line x1="184.07" y1="363.50" x2="184.07" y2="366.69" stroke="#c8d838" stroke-width="1.5"/>
<polyline points="75.30,356.52 75.60,356.45 75.90,356.41 76.19,356.40 76.49,356.42 76.79,356.47 77.09,356.54 77.39,356.64 77.68,356.78 77.98,356.93 78.28,357.12 78.58,357.33 78.88,357.57 79.17,357.84 79.47,358.13 79.77,358.44 80.07,358.78 80.37,359.14 80.66,359.53 80.96,359.94 81.26,360.37 81.56,360.83 81.86,361.31 82.15,361.83 82.45,362.40 82.75,363.15 83.05,363.80 83.35,364.35 83.64,364.85 83.94,365.33 84.24,365.78 84.54,366.20 84.84,366.60 85.13,366.98 85.43,367.33 85.73,367.66 86.03,367.97 86.33,368.25 86.62,368.51 86.92,368.74 87.22,368.94 87.52,369.12 87.82,369.27 88.11,369.39 88.41,369.49 88.71,369.55 89.01,369.59 89.31,369.60 89.60,369.58 89.90,369.53 90.20,369.45 90.50,369.35 90.80,369.21 91.09,369.05 91.39,368.86 91.69,368.65 91.99,368.41 92.29,368.14 92.58,367.85 92.88,367.53 93.18,367.19 93.48,366.83 93.78,366.44 94.07,366.03 94.37,365.60 94.67,365.14 94.97,364.65 95.27,364.13 95.56,363.55 95.86,362.79 96.16,362.16 96.46,361.61 96.76,361.11 97.05,360.64 97.35,360.19 97.65,359.77 97.95,359.37 98.25,358.99 98.54,358.64 98.84,358.31 99.14,358.01 99.44,357.73 99.74,357.47 100.03,357.24 100.33,357.04 100.63,356.87 100.93,356.72 101.23,356.60 101.52,356.51 101.82,356.44 102.12,356.41 102.42,356.40 102.72,356.42 103.01,356.47 103.31,356.55 103.61,356.66 103.91,356.80 104.21,356.96 104.50,357.15 104.80,357.37 105.10,357.61 105.40,357.88 105.70,358.17 105.99,358.49 106.29,358.83 106.59,359.20 106.89,359.59 107.19,360.00 107.48,360.44 107.78,360.90 108.08,361.39 108.38,361.91 108.68,362.49 108.97,363.26 109.27,363.88 109.57,364.43 109.87,364.93 110.17,365.40 110.46,365.84 110.76,366.26 111.06,366.66 111.36,367.03 111.66,367.38 111.95,367.71 112.25,368.01 112.55,368.29 112.85,368.55 113.15,368.77 113.44,368.97 113.74,369.15 114.04,369.29 114.34,369.41 114.64,369.50 114.93,369.56 115.23,369.59 115.53,369.60 115.83,369.57 116.13,369.52 116.42,369.44 116.72,369.33 117.02,369.19 117.32,369.03 117.62,368.83 117.91,368.61 118.21,368.37 118.51,368.10 118.81,367.80 119.11,367.48 119.40,367.14 119.70,366.77 120.00,366.38 120.30,365.97 120.60,365.53 120.89,365.07 121.19,364.58 121.49,364.05 121.79,363.46 122.09,362.69 122.38,362.07 122.68,361.54 122.98,361.04 123.28,360.57 123.58,360.13 123.87,359.71 124.17,359.31 124.47,358.94 124.77,358.59 125.07,358.27 125.36,357.96 125.66,357.69 125.96,357.44 126.26,357.21 126.56,357.01 126.85,356.84 127.15,356.70 127.45,356.58 127.75,356.49 128.05,356.44 128.34,356.40 128.64,356.40 128.94,356.43 129.24,356.48 129.54,356.57 129.83,356.68 130.13,356.82 130.43,356.99 130.73,357.18 131.03,357.40 131.32,357.65 131.62,357.92 131.92,358.22 132.22,358.54 132.52,358.89 132.81,359.26 133.11,359.65 133.41,360.06 133.71,360.50 134.01,360.97 134.30,361.46 134.60,361.99 134.90,362.59 135.20,363.36 135.50,363.97 135.79,364.50 136.09,365.00 136.39,365.46 136.69,365.91 136.99,366.32 137.28,366.72 137.58,367.09 137.88,367.43 138.18,367.76 138.48,368.06 138.77,368.33 139.07,368.58 139.37,368.80 139.67,369.00 139.97,369.17 140.26,369.31 140.56,369.42 140.86,369.51 141.16,369.57 141.46,369.60 141.75,369.60 142.05,369.57 142.35,369.51 142.65,369.42 142.95,369.31 143.24,369.17 143.54,369.00 143.84,368.80 144.14,368.58 144.44,368.33 144.73,368.06 145.03,367.76 145.33,367.43 145.63,367.09 145.93,366.72 146.22,366.32 146.52,365.91 146.82,365.46 147.12,365.00 147.42,364.50 147.71,363.97 148.01,363.36 148.31,362.59 148.61,361.99 148.91,361.46 149.20,360.97 149.50,360.50 149.80,360.06 150.10,359.65 150.40,359.26 150.69,358.89 150.99,358.54 151.29,358.22 151.59,357.92 151.89,357.65 152.18,357.40 152.48,357.18 152.78,356.99 153.08,356.82 153.38,356.68 153.67,356.57 153.97,356.48 154.27,356.43 154.57,356.40 154.87,356.40 155.16,356.44 155.46,356.49 155.76,356.58 156.06,356.70 156.36,356.84 156.65,357.01 156.95,357.21 157.25,357.44 157.55,357.69 157.85,357.96 158.14,358.27 158.44,358.59 158.74,358.94 159.04,359.31 159.34,359.71 159.63,360.13 159.93,360.57 160.23,361.04 160.53,361.54 160.83,362.07 161.12,362.69 161.42,363.46 161.72,364.05 162.02,364.58 162.32,365.07 162.61,365.53 162.91,365.97 163.21,366.38 163.51,366.77 163.81,367.14 164.10,367.48 164.40,367.80 164.70,368.10 165.00,368.37 165.30,368.61 165.59,368.83 165.89,369.03 166.19,369.19 166.49,369.33 166.79,369.44 167.08,369.52 167.38,369.57 167.68,369.60 167.98,369.59 168.28,369.56 168.57,369.50 168.87,369.41 169.17,369.29 169.47,369.15 169.77,368.97 170.06,368.77 170.36,368.55 170.66,368.29 170.96,368.01 171.26,367.71 171.55,367.38 171.85,367.03 172.15,366.66 172.45,366.26 172.75,365.84 173.04,365.40 173.34,364.93 173.64,364.43 173.94,363.88 174.24,363.26 174.53,362.49 174.83,361.91 175.13,361.39 175.43,360.90 175.73,360.44 176.02,360.00 176.32,359.59 176.62,359.20 176.92,358.83 177.22,358.49 177.51,358.17 177.81,357.88 178.11,357.61 178.41,357.37 178.71,357.15 179.00,356.96 179.30,356.80 179.60,356.66 179.90,356.55 180.20,356.47 180.49,356.42 180.79,356.40 181.09,356.41 181.39,356.44 181.69,356.51 181.98,356.60 182.28,356.72 182.58,356.87 182.88,357.04 183.18,357.24 183.47,357.47 183.77,357.73 184.07,358.01 184.37,358.31 184.67,358.64 184.96,358.99 185.26,359.37 185.56,359.77 185.86,360.19 186.16,360.64 186.45,361.11 186.75,361.61 187.05,362.16 187.35,362.79 187.65,363.55 187.94,364.13 188.24,364.65 188.54,365.14 188.84,365.60 189.14,366.03 189.43,366.44 189.73,366.83 190.03,367.19 190.33,367.53 190.63,367.85 190.92,368.14 191.22,368.41 191.52,368.65 191.82,368.86 192.12,369.05 192.41,369.21 192.71,369.35 193.01,369.45 193.31,369.53 193.61,369.58 193.90,369.60 194.20,369.59 194.50,369.55" fill="none" stroke="#243f8e" stroke-width="2.5"/>
<polyline points="75.30,369.48 75.60,369.55 75.90,369.59 76.19,369.60 76.49,369.58 76.79,369.53 77.09,369.46 77.39,369.36 77.68,369.22 77.98,369.07 78.28,368.88 78.58,368.67 78.88,368.43 79.17,368.16 79.47,367.87 79.77,367.56 80.07,367.22 80.37,366.86 80.66,366.47 80.96,366.06 81.26,365.63 81.56,365.17 81.86,364.69 82.15,364.17 82.45,363.60 82.75,362.85 83.05,362.20 83.35,361.65 83.64,361.15 83.94,360.67 84.24,360.22 84.54,359.80 84.84,359.40 85.13,359.02 85.43,358.67 85.73,358.34 86.03,358.03 86.33,357.75 86.62,357.49 86.92,357.26 87.22,357.06 87.52,356.88 87.82,356.73 88.11,356.61 88.41,356.51 88.71,356.45 89.01,356.41 89.31,356.40 89.60,356.42 89.90,356.47 90.20,356.55 90.50,356.65 90.80,356.79 91.09,356.95 91.39,357.14 91.69,357.35 91.99,357.59 92.29,357.86 92.58,358.15 92.88,358.47 93.18,358.81 93.48,359.17 93.78,359.56 94.07,359.97 94.37,360.40 94.67,360.86 94.97,361.35 95.27,361.87 95.56,362.45 95.86,363.21 96.16,363.84 96.46,364.39 96.76,364.89 97.05,365.36 97.35,365.81 97.65,366.23 97.95,366.63 98.25,367.01 98.54,367.36 98.84,367.69 99.14,367.99 99.44,368.27 99.74,368.53 100.03,368.76 100.33,368.96 100.63,369.13 100.93,369.28 101.23,369.40 101.52,369.49 101.82,369.56 102.12,369.59 102.42,369.60 102.72,369.58 103.01,369.53 103.31,369.45 103.61,369.34 103.91,369.20 104.21,369.04 104.50,368.85 104.80,368.63 105.10,368.39 105.40,368.12 105.70,367.83 105.99,367.51 106.29,367.17 106.59,366.80 106.89,366.41 107.19,366.00 107.48,365.56 107.78,365.10 108.08,364.61 108.38,364.09 108.68,363.51 108.97,362.74 109.27,362.12 109.57,361.57 109.87,361.07 110.17,360.60 110.46,360.16 110.76,359.74 111.06,359.34 111.36,358.97 111.66,358.62 111.95,358.29 112.25,357.99 112.55,357.71 112.85,357.45 113.15,357.23 113.44,357.03 113.74,356.85 114.04,356.71 114.34,356.59 114.64,356.50 114.93,356.44 115.23,356.41 115.53,356.40 115.83,356.43 116.13,356.48 116.42,356.56 116.72,356.67 117.02,356.81 117.32,356.97 117.62,357.17 117.91,357.39 118.21,357.63 118.51,357.90 118.81,358.20 119.11,358.52 119.40,358.86 119.70,359.23 120.00,359.62 120.30,360.03 120.60,360.47 120.89,360.93 121.19,361.42 121.49,361.95 121.79,362.54 122.09,363.31 122.38,363.93 122.68,364.46 122.98,364.96 123.28,365.43 123.58,365.87 123.87,366.29 124.17,366.69 124.47,367.06 124.77,367.41 125.07,367.73 125.36,368.04 125.66,368.31 125.96,368.56 126.26,368.79 126.56,368.99 126.85,369.16 127.15,369.30 127.45,369.42 127.75,369.51 128.05,369.56 128.34,369.60 128.64,369.60 128.94,369.57 129.24,369.52 129.54,369.43 129.83,369.32 130.13,369.18 130.43,369.01 130.73,368.82 131.03,368.60 131.32,368.35 131.62,368.08 131.92,367.78 132.22,367.46 132.52,367.11 132.81,366.74 133.11,366.35 133.41,365.94 133.71,365.50 134.01,365.03 134.30,364.54 134.60,364.01 134.90,363.41 135.20,362.64 135.50,362.03 135.79,361.50 136.09,361.00 136.39,360.54 136.69,360.09 136.99,359.68 137.28,359.28 137.58,358.91 137.88,358.57 138.18,358.24 138.48,357.94 138.77,357.67 139.07,357.42 139.37,357.20 139.67,357.00 139.97,356.83 140.26,356.69 140.56,356.58 140.86,356.49 141.16,356.43 141.46,356.40 141.75,356.40 142.05,356.43 142.35,356.49 142.65,356.58 142.95,356.69 143.24,356.83 143.54,357.00 143.84,357.20 144.14,357.42 144.44,357.67 144.73,357.94 145.03,358.24 145.33,358.57 145.63,358.91 145.93,359.28 146.22,359.68 146.52,360.09 146.82,360.54 147.12,361.00 147.42,361.50 147.71,362.03 148.01,362.64 148.31,363.41 148.61,364.01 148.91,364.54 149.20,365.03 149.50,365.50 149.80,365.94 150.10,366.35 150.40,366.74 150.69,367.11 150.99,367.46 151.29,367.78 151.59,368.08 151.89,368.35 152.18,368.60 152.48,368.82 152.78,369.01 153.08,369.18 153.38,369.32 153.67,369.43 153.97,369.52 154.27,369.57 154.57,369.60 154.87,369.60 155.16,369.56 155.46,369.51 155.76,369.42 156.06,369.30 156.36,369.16 156.65,368.99 156.95,368.79 157.25,368.56 157.55,368.31 157.85,368.04 158.14,367.73 158.44,367.41 158.74,367.06 159.04,366.69 159.34,366.29 159.63,365.87 159.93,365.43 160.23,364.96 160.53,364.46 160.83,363.93 161.12,363.31 161.42,362.54 161.72,361.95 162.02,361.42 162.32,360.93 162.61,360.47 162.91,360.03 163.21,359.62 163.51,359.23 163.81,358.86 164.10,358.52 164.40,358.20 164.70,357.90 165.00,357.63 165.30,357.39 165.59,357.17 165.89,356.97 166.19,356.81 166.49,356.67 166.79,356.56 167.08,356.48 167.38,356.43 167.68,356.40 167.98,356.41 168.28,356.44 168.57,356.50 168.87,356.59 169.17,356.71 169.47,356.85 169.77,357.03 170.06,357.23 170.36,357.45 170.66,357.71 170.96,357.99 171.26,358.29 171.55,358.62 171.85,358.97 172.15,359.34 172.45,359.74 172.75,360.16 173.04,360.60 173.34,361.07 173.64,361.57 173.94,362.12 174.24,362.74 174.53,363.51 174.83,364.09 175.13,364.61 175.43,365.10 175.73,365.56 176.02,366.00 176.32,366.41 176.62,366.80 176.92,367.17 177.22,367.51 177.51,367.83 177.81,368.12 178.11,368.39 178.41,368.63 178.71,368.85 179.00,369.04 179.30,369.20 179.60,369.34 179.90,369.45 180.20,369.53 180.49,369.58 180.79,369.60 181.09,369.59 181.39,369.56 181.69,369.49 181.98,369.40 182.28,369.28 182.58,369.13 182.88,368.96 183.18,368.76 183.47,368.53 183.77,368.27 184.07,367.99 184.37,367.69 184.67,367.36 184.96,367.01 185.26,366.63 185.56,366.23 185.86,365.81 186.16,365.36 186.45,364.89 186.75,364.39 187.05,363.84 187.35,363.21 187.65,362.45 187.94,361.87 188.24,361.35 188.54,360.86 188.84,360.40 189.14,359.97 189.43,359.56 189.73,359.17 190.03,358.81 190.33,358.47 190.63,358.15 190.92,357.86 191.22,357.59 191.52,357.35 191.82,357.14 192.12,356.95 192.41,356.79 192.71,356.65 193.01,356.55 193.31,356.47 193.61,356.42 193.90,356.40 194.20,356.41 194.50,356.45" fill="none" stroke="#3057a8" stroke-width="2.5"/>
<defs><linearGradient id="gg" x1="0" y1="0" x2="0" y2="1"><stop offset="0" stop-color="#c2ea8e"/><stop offset="0.5" stop-color="#a6da68"/><stop offset="1" stop-color="#92cc52"/></linearGradient><linearGradient id="bg" x1="0" y1="0" x2="0" y2="1"><stop offset="0" stop-color="#6cb0e6"/><stop offset="0.35" stop-color="#3f8fd2"/><stop offset="1" stop-color="#2c76bb"/></linearGradient><linearGradient id="yg" x1="0" y1="0" x2="0" y2="1"><stop offset="0" stop-color="#fbe98c"/><stop offset="0.45" stop-color="#f8d848"/><stop offset="1" stop-color="#f2c634"/></linearGradient><linearGradient id="lg" x1="0" y1="0" x2="1" y2="0"><stop offset="0" stop-color="#a9a1cf"/><stop offset="0.7" stop-color="#b4addb"/><stop offset="1" stop-color="#c8c2e6"/></linearGradient></defs>
<path d="M86.4,335 C86,329.5 90,326.6 95,326.6 C102,326.4 112,327.5 120,328.5 C126,329.2 131,329.6 134.5,331.2 C138,333 139,337 137.5,340 C136,342.2 133,342.2 129,342 C120,342.5 108,343.5 100,343.3 C92,343.2 86.8,340.5 86.4,335 Z" fill="url(#gg)" stroke="#5a8a30" stroke-width="0.5"/>
<text x="96.0" y="338.3" font-size="6.0" font-weight="bold" fill="#1a2410" text-anchor="middle" textLength="16.3" lengthAdjust="spacingAndGlyphs">Grip1</text>
<path d="M102.40,346.00 C102.40,338 104.90,333 110.65,333 C116.40,333 118.90,338 118.90,346 C118.90,354 115.90,359.4 110.65,359.4 C105.40,359.4 102.40,354 102.40,346 Z" fill="url(#lg)" stroke="#6a6288" stroke-width="0.6"/>
<circle cx="110.80" cy="339.1" r="3.7" fill="#6a2aa0"/>
<text x="110.80" y="340.3" font-size="3.3" font-weight="bold" fill="#e8e0f0" text-anchor="middle">GC</text>
<text x="111.00" y="352.8" font-size="5.9" font-weight="bold" fill="#1a1a1a" text-anchor="middle" textLength="8.4" lengthAdjust="spacingAndGlyphs">GR</text>
<path d="M118.40,346.00 C118.40,338 120.90,333 126.20,333 C131.50,333 134.00,338 134.00,346 C134.00,354 131.00,359.4 126.20,359.4 C121.40,359.4 118.40,354 118.40,346 Z" fill="url(#lg)" stroke="#6a6288" stroke-width="0.6"/>
<circle cx="125.70" cy="339.1" r="3.7" fill="#6a2aa0"/>
<text x="125.70" y="340.3" font-size="3.3" font-weight="bold" fill="#e8e0f0" text-anchor="middle">GC</text>
<text x="125.90" y="352.8" font-size="5.9" font-weight="bold" fill="#1a1a1a" text-anchor="middle" textLength="8.4" lengthAdjust="spacingAndGlyphs">GR</text>
<path d="M115.6,304.5 C120,299.5 126,294 133,290.6 C137,288.8 141.2,288.2 141.2,292 C141,299 135.5,308.5 127.4,315.8 C124,313.5 120,309 115.6,304.5 Z" fill="#f3736b" stroke="#5a1e1e" stroke-width="0.55"/>
<text x="127.9" y="302.6" font-size="5.6" font-weight="bold" fill="#3a1010" text-anchor="middle">HP1γ</text>
<path d="M100.3,325.5 C100,319 103.5,315.7 108.5,315.7 C112,315.7 115,317.5 119,319.5 C121.5,319.6 124,319 126.8,319.7 C130,320.5 131.4,323 131,325.5 C130.8,328 130.5,330.5 128.5,331.5 C124,333 112,333 107,332.6 C103,332.2 100.5,330 100.3,325.5 Z" fill="url(#bg)" stroke="#245a8a" stroke-width="0.5"/>
<text x="115.5" y="328.7" font-size="6.2" font-weight="bold" fill="#fff" text-anchor="middle" textLength="25.6" lengthAdjust="spacingAndGlyphs">G9a/GLP</text>
<defs><radialGradient id="mg" cx="0.4" cy="0.3" r="0.75"><stop offset="0" stop-color="#b2e8f4"/><stop offset="0.6" stop-color="#62c0da"/><stop offset="1" stop-color="#3a9cc0"/></radialGradient></defs>
<circle cx="119.8" cy="313.4" r="6.3" fill="url(#mg)" stroke="#1d3f4f" stroke-width="0.6"/>
<text x="119.8" y="315.6" font-size="6.0" font-weight="bold" fill="#111" text-anchor="middle">M</text>
<path d="M85.6,291.5 C85.2,287.5 87.5,285.6 90,285.7 C92.5,285.8 94.5,286.8 96.5,286.8 C98.5,286.8 100,285.3 102.2,285.5 C105,285.8 106.2,288.5 105.8,291.5 C105.5,294.5 105,297.5 101.5,298.5 C99,299.3 96.5,299.5 94,299.5 C91,299.5 88,299 86.6,297 C85.8,295.5 85.8,293.5 85.6,291.5 Z" fill="url(#yg)" stroke="#4a4010" stroke-width="0.6"/>
<text x="94.9" y="294.4" font-size="5.9" font-weight="bold" fill="#111" text-anchor="middle" textLength="14.4" lengthAdjust="spacingAndGlyphs">KDM</text>
<path d="M106.3,298.8 C110,300.8 113.2,304 112.6,307.5 C111.8,311 106.5,310.6 101.8,308.6" fill="none" stroke="#111" stroke-width="2.4"/>
<path d="M103.6,304.9 L100.0,308.2 L103.2,311.2" fill="none" stroke="#111" stroke-width="1.8"/>
<path d="M142.3,357 L142.3,343.9 L159.5,343.9" fill="none" stroke="#000" stroke-width="1.7"/>
<path d="M156.8,340.2 L160.9,343.9 L156.8,347.6" fill="none" stroke="#000" stroke-width="1.7"/>
<text x="165.2" y="325.40" font-size="6.6" font-weight="bold" font-style="italic" fill="#222" textLength="31.6" lengthAdjust="spacingAndGlyphs">Genes that</text>
<text x="165.2" y="334.10" font-size="6.6" font-weight="bold" font-style="italic" fill="#222" textLength="24.6" lengthAdjust="spacingAndGlyphs">promote</text>
<text x="165.2" y="342.80" font-size="6.6" font-weight="bold" font-style="italic" fill="#222" textLength="37.3" lengthAdjust="spacingAndGlyphs">Lymphoblast</text>
<text x="165.2" y="351.50" font-size="6.6" font-weight="bold" font-style="italic" fill="#222" textLength="16.8" lengthAdjust="spacingAndGlyphs">death</text>
</svg>
</body></html>
